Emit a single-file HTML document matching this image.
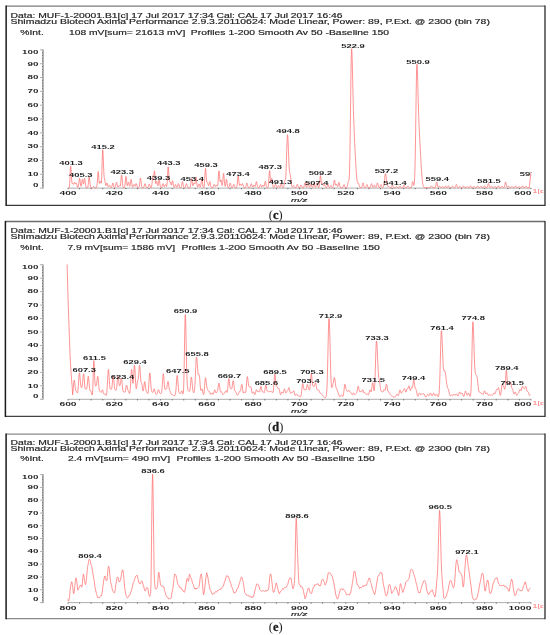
<!DOCTYPE html>
<html><head><meta charset="utf-8"><title>MALDI spectra</title>
<style>
html,body{margin:0;padding:0;background:#fff;}
svg{display:block;}
text{font-family:"Liberation Sans",Arial,sans-serif;}
</style></head>
<body>
<svg width="550" height="635" viewBox="0 0 550 635">
<clipPath id="c2"><rect x="0" y="0" width="543.3" height="635"/></clipPath>
<line x1="6.15" y1="6.2" x2="545.0" y2="6.2" stroke="#7a7a7a" stroke-width="1.3"/>
<line x1="6.15" y1="205.3" x2="545.0" y2="205.3" stroke="#3a3a3a" stroke-width="1.3"/>
<line x1="6.15" y1="5.6000000000000005" x2="6.15" y2="205.9" stroke="#1a1a1a" stroke-width="1.5"/>
<line x1="545.0" y1="5.6000000000000005" x2="545.0" y2="205.9" stroke="#2a2a2a" stroke-width="1.3"/>
<text transform="translate(10.60 17.70) scale(1 0.63)" font-size="10.3" text-anchor="start" fill="#1e1e1e" stroke="#1e1e1e" stroke-width="0.25" textLength="332.0" lengthAdjust="spacingAndGlyphs">Data: MUF-1-20001.B1[c] 17 Jul 2017 17:34 Cal: CAL 17 Jul 2017 16:46</text>
<text transform="translate(10.60 23.80) scale(1 0.63)" font-size="10.3" text-anchor="start" fill="#1e1e1e" stroke="#1e1e1e" stroke-width="0.25" textLength="479.3" lengthAdjust="spacingAndGlyphs">Shimadzu Biotech Axima Performance 2.9.3.20110624: Mode Linear, Power: 89, P.Ext. @ 2300 (bin 78)</text>
<text transform="translate(20.30 35.30) scale(1 0.63)" font-size="10.3" text-anchor="start" fill="#1e1e1e" stroke="#1e1e1e" stroke-width="0.25">%Int.</text>
<text transform="translate(69.00 35.30) scale(1 0.63)" font-size="10.3" text-anchor="start" fill="#1e1e1e" stroke="#1e1e1e" stroke-width="0.25">108 mV[sum= 21613 mV]</text>
<text transform="translate(190.80 35.30) scale(1 0.63)" font-size="10.3" text-anchor="start" fill="#1e1e1e" stroke="#1e1e1e" stroke-width="0.25" textLength="198.3" lengthAdjust="spacingAndGlyphs">Profiles 1-200 Smooth Av 50 -Baseline 150</text>
<line x1="43.0" y1="49.6" x2="43.0" y2="188.4" stroke="#8c8c8c" stroke-width="1.3"/>
<path d="M42.00 185.34H42.90 M42.00 182.57H42.90 M42.00 179.81H42.90 M42.00 177.04H42.90 M42.00 171.52H42.90 M42.00 168.75H42.90 M42.00 165.99H42.90 M42.00 163.22H42.90 M42.00 157.70H42.90 M42.00 154.93H42.90 M42.00 152.17H42.90 M42.00 149.40H42.90 M42.00 143.88H42.90 M42.00 141.11H42.90 M42.00 138.35H42.90 M42.00 135.58H42.90 M42.00 130.06H42.90 M42.00 127.29H42.90 M42.00 124.53H42.90 M42.00 121.76H42.90 M42.00 116.24H42.90 M42.00 113.47H42.90 M42.00 110.71H42.90 M42.00 107.94H42.90 M42.00 102.42H42.90 M42.00 99.65H42.90 M42.00 96.89H42.90 M42.00 94.12H42.90 M42.00 88.60H42.90 M42.00 85.83H42.90 M42.00 83.07H42.90 M42.00 80.30H42.90 M42.00 74.78H42.90 M42.00 72.01H42.90 M42.00 69.25H42.90 M42.00 66.48H42.90 M42.00 60.96H42.90 M42.00 58.19H42.90 M42.00 55.43H42.90 M42.00 52.66H42.90" stroke="#505050" stroke-width="0.8" fill="none"/>
<path d="M40.10 188.10H43.0 M40.10 174.28H43.0 M40.10 160.46H43.0 M40.10 146.64H43.0 M40.10 132.82H43.0 M40.10 119.00H43.0 M40.10 105.18H43.0 M40.10 91.36H43.0 M40.10 77.54H43.0 M40.10 63.72H43.0 M40.10 49.90H43.0" stroke="#999" stroke-width="0.8" fill="none"/>
<text transform="translate(38.40 186.75) scale(1 0.52)" font-size="9.8" text-anchor="end" fill="#1e1e1e" stroke="#1e1e1e" stroke-width="0" font-weight="bold">0</text>
<text transform="translate(38.40 176.13) scale(1 0.52)" font-size="9.8" text-anchor="end" fill="#1e1e1e" stroke="#1e1e1e" stroke-width="0" font-weight="bold">10</text>
<text transform="translate(38.40 162.31) scale(1 0.52)" font-size="9.8" text-anchor="end" fill="#1e1e1e" stroke="#1e1e1e" stroke-width="0" font-weight="bold">20</text>
<text transform="translate(38.40 148.49) scale(1 0.52)" font-size="9.8" text-anchor="end" fill="#1e1e1e" stroke="#1e1e1e" stroke-width="0" font-weight="bold">30</text>
<text transform="translate(38.40 134.67) scale(1 0.52)" font-size="9.8" text-anchor="end" fill="#1e1e1e" stroke="#1e1e1e" stroke-width="0" font-weight="bold">40</text>
<text transform="translate(38.40 120.85) scale(1 0.52)" font-size="9.8" text-anchor="end" fill="#1e1e1e" stroke="#1e1e1e" stroke-width="0" font-weight="bold">50</text>
<text transform="translate(38.40 107.03) scale(1 0.52)" font-size="9.8" text-anchor="end" fill="#1e1e1e" stroke="#1e1e1e" stroke-width="0" font-weight="bold">60</text>
<text transform="translate(38.40 93.21) scale(1 0.52)" font-size="9.8" text-anchor="end" fill="#1e1e1e" stroke="#1e1e1e" stroke-width="0" font-weight="bold">70</text>
<text transform="translate(38.40 79.39) scale(1 0.52)" font-size="9.8" text-anchor="end" fill="#1e1e1e" stroke="#1e1e1e" stroke-width="0" font-weight="bold">80</text>
<text transform="translate(38.40 65.57) scale(1 0.52)" font-size="9.8" text-anchor="end" fill="#1e1e1e" stroke="#1e1e1e" stroke-width="0" font-weight="bold">90</text>
<text transform="translate(38.40 54.25) scale(1 0.52)" font-size="9.8" text-anchor="end" fill="#1e1e1e" stroke="#1e1e1e" stroke-width="0" font-weight="bold">100</text>
<line x1="68.0" y1="188.1" x2="531.00" y2="188.1" stroke="#777" stroke-width="0.6"/>
<path d="M68.00 188.10v1.1 M79.58 188.10v1.1 M91.15 188.10v1.1 M102.72 188.10v1.1 M114.30 188.10v1.1 M125.88 188.10v1.1 M137.45 188.10v1.1 M149.02 188.10v1.1 M160.60 188.10v1.1 M172.18 188.10v1.1 M183.75 188.10v1.1 M195.32 188.10v1.1 M206.90 188.10v1.1 M218.47 188.10v1.1 M230.05 188.10v1.1 M241.62 188.10v1.1 M253.20 188.10v1.1 M264.77 188.10v1.1 M276.35 188.10v1.1 M287.92 188.10v1.1 M299.50 188.10v1.1 M311.07 188.10v1.1 M322.65 188.10v1.1 M334.22 188.10v1.1 M345.80 188.10v1.1 M357.38 188.10v1.1 M368.95 188.10v1.1 M380.52 188.10v1.1 M392.10 188.10v1.1 M403.68 188.10v1.1 M415.25 188.10v1.1 M426.82 188.10v1.1 M438.40 188.10v1.1 M449.97 188.10v1.1 M461.55 188.10v1.1 M473.12 188.10v1.1 M484.70 188.10v1.1 M496.27 188.10v1.1 M507.85 188.10v1.1 M519.42 188.10v1.1 M531.00 188.10v1.1" stroke="#444" stroke-width="0.8" fill="none"/>
<text transform="translate(68.00 195.10) scale(1 0.57)" font-size="10.3" text-anchor="middle" fill="#1e1e1e" stroke="#1e1e1e" stroke-width="0" font-weight="bold">400</text>
<text transform="translate(114.30 195.10) scale(1 0.57)" font-size="10.3" text-anchor="middle" fill="#1e1e1e" stroke="#1e1e1e" stroke-width="0" font-weight="bold">420</text>
<text transform="translate(160.60 195.10) scale(1 0.57)" font-size="10.3" text-anchor="middle" fill="#1e1e1e" stroke="#1e1e1e" stroke-width="0" font-weight="bold">440</text>
<text transform="translate(206.90 195.10) scale(1 0.57)" font-size="10.3" text-anchor="middle" fill="#1e1e1e" stroke="#1e1e1e" stroke-width="0" font-weight="bold">460</text>
<text transform="translate(253.20 195.10) scale(1 0.57)" font-size="10.3" text-anchor="middle" fill="#1e1e1e" stroke="#1e1e1e" stroke-width="0" font-weight="bold">480</text>
<text transform="translate(299.50 195.10) scale(1 0.57)" font-size="10.3" text-anchor="middle" fill="#1e1e1e" stroke="#1e1e1e" stroke-width="0" font-weight="bold">500</text>
<text transform="translate(345.80 195.10) scale(1 0.57)" font-size="10.3" text-anchor="middle" fill="#1e1e1e" stroke="#1e1e1e" stroke-width="0" font-weight="bold">520</text>
<text transform="translate(392.10 195.10) scale(1 0.57)" font-size="10.3" text-anchor="middle" fill="#1e1e1e" stroke="#1e1e1e" stroke-width="0" font-weight="bold">540</text>
<text transform="translate(438.40 195.10) scale(1 0.57)" font-size="10.3" text-anchor="middle" fill="#1e1e1e" stroke="#1e1e1e" stroke-width="0" font-weight="bold">560</text>
<text transform="translate(484.70 195.10) scale(1 0.57)" font-size="10.3" text-anchor="middle" fill="#1e1e1e" stroke="#1e1e1e" stroke-width="0" font-weight="bold">580</text>
<text transform="translate(531.50 195.10) scale(1 0.57)" font-size="10.3" text-anchor="end" fill="#1e1e1e" stroke="#1e1e1e" stroke-width="0" font-weight="bold">600</text>
<text transform="translate(299.20 201.70) scale(1 0.6)" font-size="10.2" text-anchor="middle" fill="#1e1e1e" stroke="#1e1e1e" stroke-width="0.25" font-style="italic">m/z</text>
<g clip-path="url(#c2)">
<text transform="translate(532.60 193.40) scale(1 0.6)" font-size="9.0" text-anchor="start" fill="#ff8080" stroke="#ff8080" stroke-width="0.1">1[c]</text>
</g>
<text x="275.7" y="218.6" style="font-family:'Liberation Serif',serif;font-size:12.4px" text-anchor="middle" fill="#1a1a1a">(<tspan font-weight="bold" stroke="#1a1a1a" stroke-width="0.3">c</tspan>)</text>
<line x1="5.4" y1="221.5" x2="545.0" y2="221.5" stroke="#6a6a6a" stroke-width="1.3"/>
<line x1="5.4" y1="416.4" x2="545.0" y2="416.4" stroke="#444" stroke-width="1.3"/>
<line x1="5.4" y1="220.9" x2="5.4" y2="417.0" stroke="#1a1a1a" stroke-width="1.5"/>
<line x1="545.0" y1="220.9" x2="545.0" y2="417.0" stroke="#2a2a2a" stroke-width="1.3"/>
<text transform="translate(10.60 233.30) scale(1 0.63)" font-size="10.3" text-anchor="start" fill="#1e1e1e" stroke="#1e1e1e" stroke-width="0.25" textLength="332.0" lengthAdjust="spacingAndGlyphs">Data: MUF-1-20001.B1[c] 17 Jul 2017 17:34 Cal: CAL 17 Jul 2017 16:46</text>
<text transform="translate(10.60 239.20) scale(1 0.63)" font-size="10.3" text-anchor="start" fill="#1e1e1e" stroke="#1e1e1e" stroke-width="0.25" textLength="479.3" lengthAdjust="spacingAndGlyphs">Shimadzu Biotech Axima Performance 2.9.3.20110624: Mode Linear, Power: 89, P.Ext. @ 2300 (bin 78)</text>
<text transform="translate(20.30 250.30) scale(1 0.63)" font-size="10.3" text-anchor="start" fill="#1e1e1e" stroke="#1e1e1e" stroke-width="0.25">%Int.</text>
<text transform="translate(67.40 250.30) scale(1 0.63)" font-size="10.3" text-anchor="start" fill="#1e1e1e" stroke="#1e1e1e" stroke-width="0.25">7.9 mV[sum= 1586 mV]</text>
<text transform="translate(181.50 250.30) scale(1 0.63)" font-size="10.3" text-anchor="start" fill="#1e1e1e" stroke="#1e1e1e" stroke-width="0.25" textLength="198.3" lengthAdjust="spacingAndGlyphs">Profiles 1-200 Smooth Av 50 -Baseline 150</text>
<line x1="43.0" y1="264.4" x2="43.0" y2="399.6" stroke="#8c8c8c" stroke-width="1.3"/>
<path d="M42.00 396.61H42.90 M42.00 393.92H42.90 M42.00 391.22H42.90 M42.00 388.53H42.90 M42.00 383.15H42.90 M42.00 380.46H42.90 M42.00 377.76H42.90 M42.00 375.07H42.90 M42.00 369.69H42.90 M42.00 367.00H42.90 M42.00 364.30H42.90 M42.00 361.61H42.90 M42.00 356.23H42.90 M42.00 353.54H42.90 M42.00 350.84H42.90 M42.00 348.15H42.90 M42.00 342.77H42.90 M42.00 340.08H42.90 M42.00 337.38H42.90 M42.00 334.69H42.90 M42.00 329.31H42.90 M42.00 326.62H42.90 M42.00 323.92H42.90 M42.00 321.23H42.90 M42.00 315.85H42.90 M42.00 313.16H42.90 M42.00 310.46H42.90 M42.00 307.77H42.90 M42.00 302.39H42.90 M42.00 299.70H42.90 M42.00 297.00H42.90 M42.00 294.31H42.90 M42.00 288.93H42.90 M42.00 286.24H42.90 M42.00 283.54H42.90 M42.00 280.85H42.90 M42.00 275.47H42.90 M42.00 272.78H42.90 M42.00 270.08H42.90 M42.00 267.39H42.90" stroke="#505050" stroke-width="0.8" fill="none"/>
<path d="M40.10 399.30H43.0 M40.10 385.84H43.0 M40.10 372.38H43.0 M40.10 358.92H43.0 M40.10 345.46H43.0 M40.10 332.00H43.0 M40.10 318.54H43.0 M40.10 305.08H43.0 M40.10 291.62H43.0 M40.10 278.16H43.0 M40.10 264.70H43.0" stroke="#999" stroke-width="0.8" fill="none"/>
<text transform="translate(38.40 397.95) scale(1 0.52)" font-size="9.8" text-anchor="end" fill="#1e1e1e" stroke="#1e1e1e" stroke-width="0" font-weight="bold">0</text>
<text transform="translate(38.40 387.69) scale(1 0.52)" font-size="9.8" text-anchor="end" fill="#1e1e1e" stroke="#1e1e1e" stroke-width="0" font-weight="bold">10</text>
<text transform="translate(38.40 374.23) scale(1 0.52)" font-size="9.8" text-anchor="end" fill="#1e1e1e" stroke="#1e1e1e" stroke-width="0" font-weight="bold">20</text>
<text transform="translate(38.40 360.77) scale(1 0.52)" font-size="9.8" text-anchor="end" fill="#1e1e1e" stroke="#1e1e1e" stroke-width="0" font-weight="bold">30</text>
<text transform="translate(38.40 347.31) scale(1 0.52)" font-size="9.8" text-anchor="end" fill="#1e1e1e" stroke="#1e1e1e" stroke-width="0" font-weight="bold">40</text>
<text transform="translate(38.40 333.85) scale(1 0.52)" font-size="9.8" text-anchor="end" fill="#1e1e1e" stroke="#1e1e1e" stroke-width="0" font-weight="bold">50</text>
<text transform="translate(38.40 320.39) scale(1 0.52)" font-size="9.8" text-anchor="end" fill="#1e1e1e" stroke="#1e1e1e" stroke-width="0" font-weight="bold">60</text>
<text transform="translate(38.40 306.93) scale(1 0.52)" font-size="9.8" text-anchor="end" fill="#1e1e1e" stroke="#1e1e1e" stroke-width="0" font-weight="bold">70</text>
<text transform="translate(38.40 293.47) scale(1 0.52)" font-size="9.8" text-anchor="end" fill="#1e1e1e" stroke="#1e1e1e" stroke-width="0" font-weight="bold">80</text>
<text transform="translate(38.40 280.01) scale(1 0.52)" font-size="9.8" text-anchor="end" fill="#1e1e1e" stroke="#1e1e1e" stroke-width="0" font-weight="bold">90</text>
<text transform="translate(38.40 269.05) scale(1 0.52)" font-size="9.8" text-anchor="end" fill="#1e1e1e" stroke="#1e1e1e" stroke-width="0" font-weight="bold">100</text>
<line x1="68.0" y1="399.3" x2="531.00" y2="399.3" stroke="#777" stroke-width="0.6"/>
<path d="M68.00 399.30v1.1 M79.58 399.30v1.1 M91.15 399.30v1.1 M102.72 399.30v1.1 M114.30 399.30v1.1 M125.88 399.30v1.1 M137.45 399.30v1.1 M149.02 399.30v1.1 M160.60 399.30v1.1 M172.18 399.30v1.1 M183.75 399.30v1.1 M195.32 399.30v1.1 M206.90 399.30v1.1 M218.47 399.30v1.1 M230.05 399.30v1.1 M241.62 399.30v1.1 M253.20 399.30v1.1 M264.77 399.30v1.1 M276.35 399.30v1.1 M287.92 399.30v1.1 M299.50 399.30v1.1 M311.07 399.30v1.1 M322.65 399.30v1.1 M334.22 399.30v1.1 M345.80 399.30v1.1 M357.38 399.30v1.1 M368.95 399.30v1.1 M380.52 399.30v1.1 M392.10 399.30v1.1 M403.68 399.30v1.1 M415.25 399.30v1.1 M426.82 399.30v1.1 M438.40 399.30v1.1 M449.97 399.30v1.1 M461.55 399.30v1.1 M473.12 399.30v1.1 M484.70 399.30v1.1 M496.27 399.30v1.1 M507.85 399.30v1.1 M519.42 399.30v1.1 M531.00 399.30v1.1" stroke="#444" stroke-width="0.8" fill="none"/>
<text transform="translate(68.00 406.30) scale(1 0.57)" font-size="10.3" text-anchor="middle" fill="#1e1e1e" stroke="#1e1e1e" stroke-width="0" font-weight="bold">600</text>
<text transform="translate(114.30 406.30) scale(1 0.57)" font-size="10.3" text-anchor="middle" fill="#1e1e1e" stroke="#1e1e1e" stroke-width="0" font-weight="bold">620</text>
<text transform="translate(160.60 406.30) scale(1 0.57)" font-size="10.3" text-anchor="middle" fill="#1e1e1e" stroke="#1e1e1e" stroke-width="0" font-weight="bold">640</text>
<text transform="translate(206.90 406.30) scale(1 0.57)" font-size="10.3" text-anchor="middle" fill="#1e1e1e" stroke="#1e1e1e" stroke-width="0" font-weight="bold">660</text>
<text transform="translate(253.20 406.30) scale(1 0.57)" font-size="10.3" text-anchor="middle" fill="#1e1e1e" stroke="#1e1e1e" stroke-width="0" font-weight="bold">680</text>
<text transform="translate(299.50 406.30) scale(1 0.57)" font-size="10.3" text-anchor="middle" fill="#1e1e1e" stroke="#1e1e1e" stroke-width="0" font-weight="bold">700</text>
<text transform="translate(345.80 406.30) scale(1 0.57)" font-size="10.3" text-anchor="middle" fill="#1e1e1e" stroke="#1e1e1e" stroke-width="0" font-weight="bold">720</text>
<text transform="translate(392.10 406.30) scale(1 0.57)" font-size="10.3" text-anchor="middle" fill="#1e1e1e" stroke="#1e1e1e" stroke-width="0" font-weight="bold">740</text>
<text transform="translate(438.40 406.30) scale(1 0.57)" font-size="10.3" text-anchor="middle" fill="#1e1e1e" stroke="#1e1e1e" stroke-width="0" font-weight="bold">760</text>
<text transform="translate(484.70 406.30) scale(1 0.57)" font-size="10.3" text-anchor="middle" fill="#1e1e1e" stroke="#1e1e1e" stroke-width="0" font-weight="bold">780</text>
<text transform="translate(531.50 406.30) scale(1 0.57)" font-size="10.3" text-anchor="end" fill="#1e1e1e" stroke="#1e1e1e" stroke-width="0" font-weight="bold">800</text>
<text transform="translate(299.20 412.90) scale(1 0.6)" font-size="10.2" text-anchor="middle" fill="#1e1e1e" stroke="#1e1e1e" stroke-width="0.25" font-style="italic">m/z</text>
<g clip-path="url(#c2)">
<text transform="translate(532.60 404.60) scale(1 0.6)" font-size="9.0" text-anchor="start" fill="#ff8080" stroke="#ff8080" stroke-width="0.1">1[c]</text>
</g>
<text x="275.7" y="430.5" style="font-family:'Liberation Serif',serif;font-size:12.4px" text-anchor="middle" fill="#1a1a1a">(<tspan font-weight="bold" stroke="#1a1a1a" stroke-width="0.3">d</tspan>)</text>
<line x1="6.1" y1="434.1" x2="545.0" y2="434.1" stroke="#8a8a8a" stroke-width="1.3"/>
<line x1="6.1" y1="618.6" x2="545.0" y2="618.6" stroke="#8a8a8a" stroke-width="1.3"/>
<line x1="6.1" y1="433.5" x2="6.1" y2="619.2" stroke="#1a1a1a" stroke-width="1.5"/>
<line x1="545.0" y1="433.5" x2="545.0" y2="619.2" stroke="#2a2a2a" stroke-width="1.3"/>
<text transform="translate(10.60 445.20) scale(1 0.63)" font-size="10.3" text-anchor="start" fill="#1e1e1e" stroke="#1e1e1e" stroke-width="0.25" textLength="332.0" lengthAdjust="spacingAndGlyphs">Data: MUF-1-20001.B1[c] 17 Jul 2017 17:34 Cal: CAL 17 Jul 2017 16:46</text>
<text transform="translate(10.60 450.70) scale(1 0.63)" font-size="10.3" text-anchor="start" fill="#1e1e1e" stroke="#1e1e1e" stroke-width="0.25" textLength="479.3" lengthAdjust="spacingAndGlyphs">Shimadzu Biotech Axima Performance 2.9.3.20110624: Mode Linear, Power: 89, P.Ext. @ 2300 (bin 78)</text>
<text transform="translate(20.30 461.30) scale(1 0.63)" font-size="10.3" text-anchor="start" fill="#1e1e1e" stroke="#1e1e1e" stroke-width="0.25">%Int.</text>
<text transform="translate(68.00 461.30) scale(1 0.63)" font-size="10.3" text-anchor="start" fill="#1e1e1e" stroke="#1e1e1e" stroke-width="0.25">2.4 mV[sum= 490 mV]</text>
<text transform="translate(176.60 461.30) scale(1 0.63)" font-size="10.3" text-anchor="start" fill="#1e1e1e" stroke="#1e1e1e" stroke-width="0.25" textLength="198.3" lengthAdjust="spacingAndGlyphs">Profiles 1-200 Smooth Av 50 -Baseline 150</text>
<line x1="43.0" y1="474.3" x2="43.0" y2="602.9" stroke="#8c8c8c" stroke-width="1.3"/>
<path d="M42.00 600.04H42.90 M42.00 597.48H42.90 M42.00 594.92H42.90 M42.00 592.36H42.90 M42.00 587.24H42.90 M42.00 584.68H42.90 M42.00 582.12H42.90 M42.00 579.56H42.90 M42.00 574.44H42.90 M42.00 571.88H42.90 M42.00 569.32H42.90 M42.00 566.76H42.90 M42.00 561.64H42.90 M42.00 559.08H42.90 M42.00 556.52H42.90 M42.00 553.96H42.90 M42.00 548.84H42.90 M42.00 546.28H42.90 M42.00 543.72H42.90 M42.00 541.16H42.90 M42.00 536.04H42.90 M42.00 533.48H42.90 M42.00 530.92H42.90 M42.00 528.36H42.90 M42.00 523.24H42.90 M42.00 520.68H42.90 M42.00 518.12H42.90 M42.00 515.56H42.90 M42.00 510.44H42.90 M42.00 507.88H42.90 M42.00 505.32H42.90 M42.00 502.76H42.90 M42.00 497.64H42.90 M42.00 495.08H42.90 M42.00 492.52H42.90 M42.00 489.96H42.90 M42.00 484.84H42.90 M42.00 482.28H42.90 M42.00 479.72H42.90 M42.00 477.16H42.90" stroke="#505050" stroke-width="0.8" fill="none"/>
<path d="M40.10 602.60H43.0 M40.10 589.80H43.0 M40.10 577.00H43.0 M40.10 564.20H43.0 M40.10 551.40H43.0 M40.10 538.60H43.0 M40.10 525.80H43.0 M40.10 513.00H43.0 M40.10 500.20H43.0 M40.10 487.40H43.0 M40.10 474.60H43.0" stroke="#999" stroke-width="0.8" fill="none"/>
<text transform="translate(38.40 601.25) scale(1 0.52)" font-size="9.8" text-anchor="end" fill="#1e1e1e" stroke="#1e1e1e" stroke-width="0" font-weight="bold">0</text>
<text transform="translate(38.40 591.65) scale(1 0.52)" font-size="9.8" text-anchor="end" fill="#1e1e1e" stroke="#1e1e1e" stroke-width="0" font-weight="bold">10</text>
<text transform="translate(38.40 578.85) scale(1 0.52)" font-size="9.8" text-anchor="end" fill="#1e1e1e" stroke="#1e1e1e" stroke-width="0" font-weight="bold">20</text>
<text transform="translate(38.40 566.05) scale(1 0.52)" font-size="9.8" text-anchor="end" fill="#1e1e1e" stroke="#1e1e1e" stroke-width="0" font-weight="bold">30</text>
<text transform="translate(38.40 553.25) scale(1 0.52)" font-size="9.8" text-anchor="end" fill="#1e1e1e" stroke="#1e1e1e" stroke-width="0" font-weight="bold">40</text>
<text transform="translate(38.40 540.45) scale(1 0.52)" font-size="9.8" text-anchor="end" fill="#1e1e1e" stroke="#1e1e1e" stroke-width="0" font-weight="bold">50</text>
<text transform="translate(38.40 527.65) scale(1 0.52)" font-size="9.8" text-anchor="end" fill="#1e1e1e" stroke="#1e1e1e" stroke-width="0" font-weight="bold">60</text>
<text transform="translate(38.40 514.85) scale(1 0.52)" font-size="9.8" text-anchor="end" fill="#1e1e1e" stroke="#1e1e1e" stroke-width="0" font-weight="bold">70</text>
<text transform="translate(38.40 502.05) scale(1 0.52)" font-size="9.8" text-anchor="end" fill="#1e1e1e" stroke="#1e1e1e" stroke-width="0" font-weight="bold">80</text>
<text transform="translate(38.40 489.25) scale(1 0.52)" font-size="9.8" text-anchor="end" fill="#1e1e1e" stroke="#1e1e1e" stroke-width="0" font-weight="bold">90</text>
<text transform="translate(38.40 478.95) scale(1 0.52)" font-size="9.8" text-anchor="end" fill="#1e1e1e" stroke="#1e1e1e" stroke-width="0" font-weight="bold">100</text>
<line x1="68.0" y1="602.6" x2="531.00" y2="602.6" stroke="#777" stroke-width="0.6"/>
<path d="M68.00 602.60v1.1 M79.58 602.60v1.1 M91.15 602.60v1.1 M102.72 602.60v1.1 M114.30 602.60v1.1 M125.88 602.60v1.1 M137.45 602.60v1.1 M149.02 602.60v1.1 M160.60 602.60v1.1 M172.18 602.60v1.1 M183.75 602.60v1.1 M195.32 602.60v1.1 M206.90 602.60v1.1 M218.47 602.60v1.1 M230.05 602.60v1.1 M241.62 602.60v1.1 M253.20 602.60v1.1 M264.77 602.60v1.1 M276.35 602.60v1.1 M287.92 602.60v1.1 M299.50 602.60v1.1 M311.07 602.60v1.1 M322.65 602.60v1.1 M334.22 602.60v1.1 M345.80 602.60v1.1 M357.38 602.60v1.1 M368.95 602.60v1.1 M380.52 602.60v1.1 M392.10 602.60v1.1 M403.68 602.60v1.1 M415.25 602.60v1.1 M426.82 602.60v1.1 M438.40 602.60v1.1 M449.97 602.60v1.1 M461.55 602.60v1.1 M473.12 602.60v1.1 M484.70 602.60v1.1 M496.27 602.60v1.1 M507.85 602.60v1.1 M519.42 602.60v1.1 M531.00 602.60v1.1" stroke="#444" stroke-width="0.8" fill="none"/>
<text transform="translate(68.00 609.60) scale(1 0.57)" font-size="10.3" text-anchor="middle" fill="#1e1e1e" stroke="#1e1e1e" stroke-width="0" font-weight="bold">800</text>
<text transform="translate(114.30 609.60) scale(1 0.57)" font-size="10.3" text-anchor="middle" fill="#1e1e1e" stroke="#1e1e1e" stroke-width="0" font-weight="bold">820</text>
<text transform="translate(160.60 609.60) scale(1 0.57)" font-size="10.3" text-anchor="middle" fill="#1e1e1e" stroke="#1e1e1e" stroke-width="0" font-weight="bold">840</text>
<text transform="translate(206.90 609.60) scale(1 0.57)" font-size="10.3" text-anchor="middle" fill="#1e1e1e" stroke="#1e1e1e" stroke-width="0" font-weight="bold">860</text>
<text transform="translate(253.20 609.60) scale(1 0.57)" font-size="10.3" text-anchor="middle" fill="#1e1e1e" stroke="#1e1e1e" stroke-width="0" font-weight="bold">880</text>
<text transform="translate(299.50 609.60) scale(1 0.57)" font-size="10.3" text-anchor="middle" fill="#1e1e1e" stroke="#1e1e1e" stroke-width="0" font-weight="bold">900</text>
<text transform="translate(345.80 609.60) scale(1 0.57)" font-size="10.3" text-anchor="middle" fill="#1e1e1e" stroke="#1e1e1e" stroke-width="0" font-weight="bold">920</text>
<text transform="translate(392.10 609.60) scale(1 0.57)" font-size="10.3" text-anchor="middle" fill="#1e1e1e" stroke="#1e1e1e" stroke-width="0" font-weight="bold">940</text>
<text transform="translate(438.40 609.60) scale(1 0.57)" font-size="10.3" text-anchor="middle" fill="#1e1e1e" stroke="#1e1e1e" stroke-width="0" font-weight="bold">960</text>
<text transform="translate(484.70 609.60) scale(1 0.57)" font-size="10.3" text-anchor="middle" fill="#1e1e1e" stroke="#1e1e1e" stroke-width="0" font-weight="bold">980</text>
<text transform="translate(531.50 609.60) scale(1 0.57)" font-size="10.3" text-anchor="end" fill="#1e1e1e" stroke="#1e1e1e" stroke-width="0" font-weight="bold">1000</text>
<text transform="translate(299.20 616.20) scale(1 0.6)" font-size="10.2" text-anchor="middle" fill="#1e1e1e" stroke="#1e1e1e" stroke-width="0.25" font-style="italic">m/z</text>
<g clip-path="url(#c2)">
<text transform="translate(532.60 607.90) scale(1 0.6)" font-size="9.0" text-anchor="start" fill="#ff8080" stroke="#ff8080" stroke-width="0.1">1[c]</text>
</g>
<text x="275.7" y="631.4" style="font-family:'Liberation Serif',serif;font-size:12.4px" text-anchor="middle" fill="#1a1a1a">(<tspan font-weight="bold" stroke="#1a1a1a" stroke-width="0.3">e</tspan>)</text>
<path d="M68.20 187.80L68.45 187.80 68.70 187.78 68.95 187.71 69.20 187.37 69.45 186.25 69.70 183.49 69.95 178.44 70.20 171.97 70.45 166.96 70.70 166.21 70.95 168.51 71.20 172.55 71.45 176.97 71.70 180.57 71.95 182.72 72.20 183.51 72.45 183.46 72.70 183.26 72.95 183.39 73.20 183.87 73.45 184.36 73.70 184.45 73.95 183.97 74.20 183.14 74.45 182.47 74.70 182.36 74.95 182.84 75.20 183.53 75.45 183.93 75.70 183.82 75.95 183.38 76.20 183.07 76.45 183.27 76.70 184.05 76.95 185.14 77.20 186.19 77.45 186.95 77.70 187.35 77.95 187.39 78.20 187.01 78.45 186.07 78.70 184.45 78.95 182.26 79.20 180.00 79.45 178.48 79.70 178.32 79.95 179.61 80.20 181.77 80.45 183.99 80.70 185.61 80.95 186.35 81.20 186.15 81.45 185.06 81.70 183.28 81.95 181.26 82.20 179.72 82.45 179.30 82.70 180.15 82.95 181.79 83.20 183.35 83.45 184.06 83.70 183.51 83.95 181.89 84.20 179.88 84.45 178.44 84.70 178.32 84.95 179.61 85.20 181.79 85.45 184.05 85.70 185.81 85.95 186.90 86.20 187.46 86.45 187.69 86.70 187.77 86.95 187.78 87.20 187.74 87.45 187.60 87.70 187.23 87.95 186.40 88.20 184.89 88.45 182.65 88.70 180.07 88.95 177.94 89.20 177.10 89.45 177.94 89.70 180.07 89.95 182.65 90.20 184.89 90.45 186.40 90.70 187.23 90.95 187.60 91.20 187.74 91.45 187.78 91.70 187.78 91.95 187.74 92.20 187.66 92.45 187.49 92.70 187.23 92.95 186.92 93.20 186.64 93.45 186.50 93.70 186.57 93.95 186.80 94.20 187.11 94.45 187.40 94.70 187.60 94.95 187.72 95.20 187.77 95.45 187.79 95.70 187.79 95.95 187.78 96.20 187.71 96.45 187.50 96.70 186.93 96.95 185.68 97.20 183.39 97.45 180.01 97.70 176.10 97.95 172.86 98.20 171.59 98.45 172.82 98.70 175.94 98.95 179.56 99.20 182.34 99.45 183.58 99.70 183.34 99.95 182.27 100.20 181.25 100.45 180.97 100.70 181.60 100.95 182.67 101.20 183.17 101.45 181.84 101.70 177.57 101.95 170.10 102.20 160.85 102.45 152.93 102.70 149.77 102.95 151.54 103.20 156.32 103.45 162.72 103.70 169.10 103.95 174.13 104.20 177.30 104.45 178.95 104.70 179.91 104.95 180.93 105.20 182.32 105.45 183.85 105.70 185.04 105.95 185.52 106.20 185.22 106.45 184.38 106.70 183.47 106.95 183.00 107.20 183.24 107.45 184.10 107.70 185.22 107.95 186.19 108.20 186.75 108.45 186.82 108.70 186.47 108.95 185.88 109.20 185.30 109.45 185.01 109.70 185.14 109.95 185.65 110.20 186.32 110.45 186.93 110.70 187.36 110.95 187.58 111.20 187.62 111.45 187.47 111.70 187.06 111.95 186.31 112.20 185.26 112.45 184.11 112.70 183.24 112.95 183.02 113.20 183.53 113.45 184.56 113.70 185.71 113.95 186.65 114.20 187.26 114.45 187.57 114.70 187.65 114.95 187.53 115.20 187.17 115.45 186.46 115.70 185.36 115.95 184.02 116.20 182.82 116.45 182.22 116.70 182.48 116.95 183.49 117.20 184.83 117.45 186.03 117.70 186.82 117.95 187.14 118.20 187.04 118.45 186.65 118.70 186.13 118.95 185.68 119.20 185.49 119.45 185.65 119.70 186.02 119.95 186.32 120.20 186.17 120.45 185.19 120.70 183.18 120.95 180.31 121.20 177.31 121.45 175.27 121.70 175.07 121.95 176.80 122.20 179.72 122.45 182.76 122.70 185.13 122.95 186.59 123.20 187.34 123.45 187.65 123.70 187.75 123.95 187.74 124.20 187.63 124.45 187.30 124.70 186.53 124.95 185.08 125.20 182.84 125.45 180.11 125.70 177.66 125.95 176.44 126.20 176.97 126.45 179.02 126.70 181.69 126.95 184.02 127.20 185.40 127.45 185.68 127.70 185.01 127.95 183.81 128.20 182.62 128.45 182.01 128.70 182.29 128.95 183.32 129.20 184.66 129.45 185.76 129.70 186.24 129.95 185.90 130.20 184.70 130.45 182.85 130.70 180.89 130.95 179.54 131.20 179.41 131.45 180.55 131.70 182.47 131.95 184.46 132.20 185.99 132.45 186.86 132.70 187.13 132.95 186.91 133.20 186.34 133.45 185.57 133.70 184.86 133.95 184.50 134.20 184.64 134.45 185.19 134.70 185.83 134.95 186.23 135.20 186.15 135.45 185.57 135.70 184.69 135.95 183.90 136.20 183.59 136.45 183.93 136.70 184.77 136.95 185.78 137.20 186.66 137.45 187.25 137.70 187.57 137.95 187.72 138.20 187.77 138.45 187.75 138.70 187.65 138.95 187.37 139.20 186.71 139.45 185.46 139.70 183.54 139.95 181.19 140.20 179.08 140.45 178.03 140.70 178.50 140.95 180.27 141.20 182.62 141.45 184.77 141.70 186.29 141.95 187.16 142.20 187.57 142.45 187.73 142.70 187.78 142.95 187.78 143.20 187.74 143.45 187.62 143.70 187.33 143.95 186.80 144.20 185.97 144.45 184.97 144.70 184.06 144.95 183.61 145.20 183.81 145.45 184.57 145.70 185.58 145.95 186.50 146.20 187.15 146.45 187.53 146.70 187.70 146.95 187.77 147.20 187.78 147.45 187.75 147.70 187.66 147.95 187.44 148.20 187.01 148.45 186.32 148.70 185.42 148.95 184.56 149.20 184.05 149.45 184.11 149.70 184.71 149.95 185.61 150.20 186.47 150.45 187.12 150.70 187.48 150.95 187.61 151.20 187.50 151.45 187.05 151.70 186.05 151.95 184.27 152.20 181.76 152.45 178.97 152.70 176.73 152.95 175.71 153.20 175.83 153.45 176.18 153.70 175.66 153.95 173.95 154.20 171.86 154.45 170.84 154.70 171.93 154.95 174.95 155.20 178.70 155.45 181.81 155.70 183.41 155.95 183.46 156.20 182.50 156.45 181.41 156.70 180.97 156.95 181.51 157.20 182.84 157.45 184.38 157.70 185.53 157.95 185.89 158.20 185.31 158.45 183.92 158.70 182.13 158.95 180.60 159.20 180.00 159.45 180.61 159.70 182.17 159.95 184.05 160.20 185.68 160.45 186.78 160.70 187.38 160.95 187.64 161.20 187.69 161.45 187.60 161.70 187.32 161.95 186.77 162.20 185.93 162.45 184.90 162.70 183.97 162.95 183.51 163.20 183.71 163.45 184.48 163.70 185.48 163.95 186.33 164.20 186.77 164.45 186.73 164.70 186.26 164.95 185.54 165.20 184.86 165.45 184.51 165.70 184.66 165.95 185.25 166.20 185.97 166.45 186.48 166.70 186.37 166.95 185.20 167.20 182.51 167.45 178.21 167.70 173.02 167.95 168.63 168.20 166.88 168.45 168.12 168.70 171.40 168.95 175.49 169.20 179.06 169.45 181.29 169.70 182.06 169.95 181.93 170.20 181.71 170.45 182.02 170.70 182.95 170.95 184.13 171.20 184.99 171.45 185.07 171.70 184.26 171.95 182.84 172.20 181.43 172.45 180.71 172.70 181.06 172.95 182.34 173.20 184.04 173.45 185.59 173.70 186.66 173.95 187.19 174.20 187.27 174.45 186.96 174.70 186.35 174.95 185.57 175.20 184.86 175.45 184.51 175.70 184.67 175.95 185.26 176.20 186.05 176.45 186.75 176.70 187.20 176.95 187.31 177.20 187.08 177.45 186.48 177.70 185.57 177.95 184.57 178.20 183.81 178.45 183.61 178.70 184.06 178.95 184.97 179.20 185.97 179.45 186.80 179.70 187.33 179.95 187.61 180.20 187.73 180.45 187.76 180.70 187.70 180.95 187.52 181.20 187.10 181.45 186.30 181.70 185.06 181.95 183.55 182.20 182.20 182.45 181.52 182.70 181.82 182.95 182.96 183.20 184.47 183.45 185.85 183.70 186.83 183.95 187.39 184.20 187.65 184.45 187.74 184.70 187.73 184.95 187.61 185.20 187.33 185.45 186.80 185.70 185.97 185.95 184.97 186.20 184.06 186.45 183.61 186.70 183.81 186.95 184.57 187.20 185.58 187.45 186.50 187.70 187.15 187.95 187.53 188.20 187.70 188.45 187.77 188.70 187.79 188.95 187.80 189.20 187.79 189.45 187.78 189.70 187.72 189.95 187.53 190.20 187.07 190.45 186.14 190.70 184.56 190.95 182.43 191.20 180.25 191.45 178.77 191.70 178.62 191.95 179.85 192.20 181.91 192.45 183.96 192.70 185.34 192.95 185.79 193.20 185.38 193.45 184.45 193.70 183.49 193.95 182.96 194.20 183.08 194.45 183.64 194.70 184.06 194.95 183.74 195.20 182.36 195.45 180.20 195.70 178.08 195.95 177.00 196.20 177.54 196.45 179.50 196.70 182.09 196.95 184.44 197.20 186.08 197.45 186.93 197.70 187.13 197.95 186.82 198.20 186.13 198.45 185.23 198.70 184.42 198.95 184.01 199.20 184.19 199.45 184.87 199.70 185.76 199.95 186.53 200.20 186.91 200.45 186.76 200.70 185.95 200.95 184.45 201.20 182.47 201.45 180.55 201.70 179.41 201.95 179.55 202.20 180.90 202.45 182.89 202.70 184.84 202.95 186.28 203.20 187.12 203.45 187.50 203.70 187.51 203.95 187.09 204.20 185.94 204.45 183.60 204.70 179.82 204.95 175.05 205.20 170.67 205.45 168.45 205.70 169.10 205.95 171.81 206.20 175.50 206.45 178.93 206.70 181.25 206.95 182.29 207.20 182.51 207.45 182.61 207.70 183.08 207.95 184.00 208.20 185.03 208.45 185.72 208.70 185.76 208.95 185.03 209.20 183.74 209.45 182.39 209.70 181.57 209.95 181.68 210.20 182.68 210.45 184.16 210.70 185.60 210.95 186.67 211.20 187.31 211.45 187.62 211.70 187.74 211.95 187.78 212.20 187.78 212.45 187.73 212.70 187.61 212.95 187.34 213.20 186.85 213.45 186.12 213.70 185.27 213.95 184.57 214.20 184.30 214.45 184.56 214.70 185.23 214.95 185.99 215.20 186.54 215.45 186.67 215.70 186.39 215.95 185.85 216.20 185.29 216.45 185.00 216.70 185.12 216.95 185.58 217.20 186.07 217.45 186.19 217.70 185.48 217.95 183.57 218.20 180.34 218.45 176.31 218.70 172.66 218.95 170.82 219.20 171.55 219.45 174.39 219.70 177.95 219.95 180.69 220.20 181.80 220.45 181.43 220.70 180.47 220.95 179.90 221.20 180.36 221.45 181.76 221.70 183.54 221.95 184.97 222.20 185.46 222.45 184.68 222.70 182.53 222.95 179.32 223.20 175.93 223.45 173.62 223.70 173.39 223.95 175.35 224.20 178.65 224.45 182.06 224.70 184.65 224.95 186.06 225.20 186.33 225.45 185.60 225.70 184.06 225.95 182.05 226.20 180.24 226.45 179.33 226.70 179.73 226.95 181.27 227.20 183.31 227.45 185.17 227.70 186.49 227.95 187.24 228.20 187.58 228.45 187.65 228.70 187.53 228.95 187.17 229.20 186.49 229.45 185.49 229.70 184.33 229.95 183.37 230.20 183.00 230.45 183.37 230.70 184.33 230.95 185.49 231.20 186.49 231.45 187.17 231.70 187.53 231.95 187.67 232.20 187.65 232.45 187.47 232.70 187.07 232.95 186.43 233.20 185.61 233.45 184.82 233.70 184.35 233.95 184.40 234.20 184.96 234.45 185.78 234.70 186.58 234.95 187.17 235.20 187.53 235.45 187.70 235.70 187.76 235.95 187.77 236.20 187.73 236.45 187.57 236.70 187.15 236.95 186.20 237.20 184.48 237.45 181.93 237.70 178.99 237.95 176.55 238.20 175.60 238.45 176.54 238.70 178.93 238.95 181.76 239.20 184.06 239.45 185.30 239.70 185.49 239.95 185.01 240.20 184.35 240.45 183.98 240.70 184.13 240.95 184.69 241.20 185.32 241.45 185.62 241.70 185.39 241.95 184.72 242.20 183.98 242.45 183.59 242.70 183.81 242.95 184.57 243.20 185.58 243.45 186.50 243.70 187.15 243.95 187.53 244.20 187.70 244.45 187.77 244.70 187.78 244.95 187.76 245.20 187.69 245.45 187.49 245.70 187.06 245.95 186.32 246.20 185.26 246.45 184.11 246.70 183.24 246.95 183.02 247.20 183.53 247.45 184.56 247.70 185.71 247.95 186.66 248.20 187.27 248.45 187.59 248.70 187.73 248.95 187.78 249.20 187.78 249.45 187.75 249.70 187.65 249.95 187.41 250.20 186.93 250.45 186.16 250.70 185.17 250.95 184.22 251.20 183.65 251.45 183.72 251.70 184.39 251.95 185.36 252.20 186.29 252.45 186.93 252.70 187.16 252.95 187.01 253.20 186.54 253.45 185.90 253.70 185.31 253.95 185.01 254.20 185.13 254.45 185.60 254.70 186.17 254.95 186.53 255.20 186.40 255.45 185.67 255.70 184.40 255.95 182.94 256.20 181.81 256.45 181.52 256.70 182.20 256.95 183.55 257.20 185.06 257.45 186.30 257.70 187.10 257.95 187.52 258.20 187.70 258.45 187.76 258.70 187.74 258.95 187.65 259.20 187.43 259.45 187.01 259.70 186.36 259.95 185.57 260.20 184.86 260.45 184.51 260.70 184.66 260.95 185.25 261.20 186.01 261.45 186.66 261.70 186.98 261.95 186.92 262.20 186.51 262.45 185.89 262.70 185.30 262.95 185.00 263.20 185.12 263.45 185.57 263.70 186.09 263.95 186.33 264.20 186.02 264.45 185.08 264.70 183.67 264.95 182.24 265.20 181.38 265.45 181.49 265.70 182.52 265.95 184.05 266.20 185.53 266.45 186.64 266.70 187.29 266.95 187.61 267.20 187.73 267.45 187.76 267.70 187.68 267.95 187.40 268.20 186.66 268.45 185.03 268.70 182.15 268.95 178.12 269.20 173.87 269.45 170.93 269.70 170.61 269.95 173.01 270.20 176.91 270.45 180.53 270.70 182.59 270.95 182.70 271.20 181.36 271.45 179.55 271.70 178.38 271.95 178.57 272.20 180.08 272.45 182.32 272.70 184.49 272.95 186.10 273.20 187.05 273.45 187.51 273.70 187.66 273.95 187.62 274.20 187.40 274.45 186.94 274.70 186.23 274.95 185.37 275.20 184.60 275.45 184.21 275.70 184.38 275.95 185.03 276.20 185.89 276.45 186.68 276.70 187.21 276.95 187.47 277.20 187.46 277.45 187.23 277.70 186.79 277.95 186.25 278.20 185.75 278.45 185.51 278.70 185.62 278.95 186.03 279.20 186.57 279.45 187.04 279.70 187.29 279.95 187.25 280.20 186.86 280.45 186.10 280.70 185.10 280.95 184.13 281.20 183.56 281.45 183.62 281.70 184.31 281.95 185.32 282.20 186.30 282.45 187.03 282.70 187.45 282.95 187.63 283.20 187.61 283.45 187.37 283.70 186.79 283.95 185.77 284.20 184.30 284.45 182.63 284.70 181.21 284.95 180.36 285.20 179.99 285.45 179.45 285.70 177.79 285.95 174.20 286.20 168.37 286.45 160.63 286.70 151.93 286.95 143.72 287.20 137.56 287.45 134.76 287.70 135.52 287.95 138.82 288.20 144.09 288.45 150.48 288.70 157.05 288.95 162.93 289.20 167.52 289.45 170.63 289.70 172.46 289.95 173.54 290.20 174.47 290.45 175.73 290.70 177.50 290.95 179.65 291.20 181.88 291.45 183.87 291.70 185.41 291.95 186.43 292.20 186.98 292.45 187.11 292.70 186.91 292.95 186.49 293.20 186.00 293.45 185.66 293.70 185.63 293.95 185.92 294.20 186.42 294.45 186.94 294.70 187.34 294.95 187.59 295.20 187.71 295.45 187.73 295.70 187.66 295.95 187.46 296.20 187.05 296.45 186.39 296.70 185.55 296.95 184.73 297.20 184.25 297.45 184.30 297.70 184.88 297.95 185.72 298.20 186.54 298.45 187.15 298.70 187.52 298.95 187.68 299.20 187.73 299.45 187.67 299.70 187.49 299.95 187.13 300.20 186.58 300.45 185.91 300.70 185.31 300.95 185.01 301.20 185.14 301.45 185.65 301.70 186.32 301.95 186.93 302.20 187.37 302.45 187.62 302.70 187.73 302.95 187.76 303.20 187.72 303.45 187.57 303.70 187.23 303.95 186.58 304.20 185.58 304.45 184.36 304.70 183.26 304.95 182.72 305.20 182.96 305.45 183.88 305.70 185.10 305.95 186.20 306.20 186.94 306.45 187.24 306.70 187.12 306.95 186.55 307.20 185.57 307.45 184.36 307.70 183.26 307.95 182.72 308.20 182.96 308.45 183.88 308.70 185.10 308.95 186.21 309.20 186.96 309.45 187.31 309.70 187.28 309.95 186.91 310.20 186.22 310.45 185.37 310.70 184.60 310.95 184.21 311.20 184.38 311.45 185.03 311.70 185.89 311.95 186.67 312.20 187.18 312.45 187.38 312.70 187.24 312.95 186.75 313.20 185.92 313.45 184.90 313.70 183.97 313.95 183.51 314.20 183.72 314.45 184.49 314.70 185.52 314.95 186.45 315.20 187.06 315.45 187.30 315.70 187.13 315.95 186.55 316.20 185.57 316.45 184.36 316.70 183.26 316.95 182.72 317.20 182.96 317.45 183.88 317.70 185.10 317.95 186.22 318.20 187.00 318.45 187.42 318.70 187.50 318.95 187.22 319.20 186.43 319.45 184.87 319.70 182.45 319.95 179.50 320.20 176.85 320.45 175.52 320.70 176.05 320.95 178.14 321.20 180.76 321.45 182.85 321.70 183.82 321.95 183.76 322.20 183.24 322.45 182.91 322.70 183.17 322.95 183.95 323.20 184.86 323.45 185.46 323.70 185.50 323.95 185.06 324.20 184.49 324.45 184.18 324.70 184.37 324.95 185.03 325.20 185.90 325.45 186.69 325.70 187.24 325.95 187.55 326.20 187.67 326.45 187.63 326.70 187.43 326.95 187.01 327.20 186.36 327.45 185.57 327.70 184.86 327.95 184.51 328.20 184.67 328.45 185.26 328.70 186.05 328.95 186.77 329.20 187.26 329.45 187.48 329.70 187.47 329.95 187.23 330.20 186.79 330.45 186.25 330.70 185.75 330.95 185.51 331.20 185.62 331.45 186.03 331.70 186.58 331.95 187.09 332.20 187.43 332.45 187.60 332.70 187.56 332.95 187.28 333.20 186.60 333.45 185.39 333.70 183.68 333.95 181.81 334.20 180.39 334.45 180.01 334.70 180.81 334.95 182.37 335.20 183.99 335.45 185.04 335.70 185.28 335.95 184.89 336.20 184.30 336.45 183.98 336.70 184.18 336.95 184.86 337.20 185.71 337.45 186.39 337.70 186.62 337.95 186.27 338.20 185.36 338.45 184.13 338.70 182.99 338.95 182.42 339.20 182.67 339.45 183.65 339.70 184.95 339.95 186.13 340.20 186.97 340.45 187.45 340.70 187.67 340.95 187.76 341.20 187.79 341.45 187.80 341.70 187.80 341.95 187.79 342.20 187.75 342.45 187.66 342.70 187.43 342.95 187.01 343.20 186.36 343.45 185.57 343.70 184.86 343.95 184.51 344.20 184.67 344.45 185.26 344.70 186.06 344.95 186.78 345.20 187.29 345.45 187.59 345.70 187.72 345.95 187.77 346.20 187.78 346.45 187.73 346.70 187.59 346.95 187.26 347.20 186.59 347.45 185.51 347.70 184.10 347.95 182.68 348.20 181.65 348.45 181.20 348.70 181.03 348.95 180.33 349.20 178.02 349.45 173.06 349.70 164.62 349.95 152.20 350.20 135.87 350.45 116.42 350.70 95.56 350.95 75.78 351.20 59.92 351.45 50.49 351.70 48.72 351.95 52.13 352.20 59.40 352.45 69.37 352.70 80.68 352.95 92.00 353.20 102.36 353.45 111.26 353.70 118.74 353.95 125.27 354.20 131.49 354.45 137.69 354.70 143.27 354.95 148.39 355.20 153.24 355.45 157.90 355.70 162.39 355.95 166.65 356.20 170.59 356.45 174.12 356.70 177.17 356.95 179.67 357.20 181.53 357.45 182.72 357.70 183.25 357.95 183.28 358.20 183.13 358.45 183.19 358.70 183.68 358.95 184.57 359.20 185.61 359.45 186.52 359.70 187.16 359.95 187.52 360.20 187.69 360.45 187.76 360.70 187.78 360.95 187.78 361.20 187.73 361.45 187.58 361.70 187.26 361.95 186.63 362.20 185.67 362.45 184.49 362.70 183.44 362.95 182.92 363.20 183.15 363.45 184.03 363.70 185.21 363.95 186.29 364.20 187.05 364.45 187.48 364.70 187.68 364.95 187.75 365.20 187.74 365.45 187.65 365.70 187.43 365.95 187.01 366.20 186.36 366.45 185.57 366.70 184.86 366.95 184.51 367.20 184.67 367.45 185.26 367.70 186.06 367.95 186.78 368.20 187.29 368.45 187.59 368.70 187.72 368.95 187.78 369.20 187.79 369.45 187.78 369.70 187.74 369.95 187.62 370.20 187.33 370.45 186.80 370.70 185.97 370.95 184.97 371.20 184.06 371.45 183.61 371.70 183.81 371.95 184.57 372.20 185.58 372.45 186.49 372.70 187.11 372.95 187.40 373.20 187.39 373.45 187.10 373.70 186.57 373.95 185.91 374.20 185.31 374.45 185.01 374.70 185.14 374.95 185.65 375.20 186.31 375.45 186.91 375.70 187.30 375.95 187.40 376.20 187.19 376.45 186.61 376.70 185.66 376.95 184.49 377.20 183.44 377.45 182.92 377.70 183.15 377.95 184.03 378.20 185.21 378.45 186.28 378.70 187.04 378.95 187.47 379.20 187.64 379.45 187.62 379.70 187.42 379.95 187.01 380.20 186.36 380.45 185.57 380.70 184.86 380.95 184.51 381.20 184.67 381.45 185.26 381.70 186.05 381.95 186.77 382.20 187.28 382.45 187.54 382.70 187.61 382.95 187.52 383.20 187.26 383.45 186.75 383.70 185.89 383.95 184.60 384.20 182.83 384.45 180.66 384.70 178.30 384.95 176.10 385.20 174.46 385.45 173.72 385.70 173.98 385.95 175.06 386.20 176.76 386.45 178.82 386.70 180.93 386.95 182.85 387.20 184.41 387.45 185.52 387.70 186.19 387.95 186.47 388.20 186.49 388.45 186.42 388.70 186.42 388.95 186.56 389.20 186.85 389.45 187.17 389.70 187.44 389.95 187.63 390.20 187.72 390.45 187.76 390.70 187.73 390.95 187.62 391.20 187.37 391.45 186.93 391.70 186.32 391.95 185.65 392.20 185.14 392.45 185.01 392.70 185.31 392.95 185.91 393.20 186.58 393.45 187.13 393.70 187.49 393.95 187.68 394.20 187.76 394.45 187.78 394.70 187.78 394.95 187.74 395.20 187.66 395.45 187.49 395.70 187.23 395.95 186.92 396.20 186.64 396.45 186.50 396.70 186.57 396.95 186.80 397.20 187.11 397.45 187.40 397.70 187.60 397.95 187.71 398.20 187.74 398.45 187.71 398.70 187.60 398.95 187.37 399.20 187.02 399.45 186.59 399.70 186.20 399.95 186.01 400.20 186.09 400.45 186.42 400.70 186.85 400.95 187.24 401.20 187.52 401.45 187.68 401.70 187.76 401.95 187.78 402.20 187.76 402.45 187.68 402.70 187.49 402.95 187.13 403.20 186.58 403.45 185.91 403.70 185.31 403.95 185.01 404.20 185.14 404.45 185.65 404.70 186.32 404.95 186.93 405.20 187.37 405.45 187.62 405.70 187.73 405.95 187.77 406.20 187.77 406.45 187.72 406.70 187.60 406.95 187.37 407.20 187.02 407.45 186.59 407.70 186.20 407.95 186.01 408.20 186.09 408.45 186.42 408.70 186.85 408.95 187.24 409.20 187.52 409.45 187.68 409.70 187.76 409.95 187.79 410.20 187.79 410.45 187.79 410.70 187.77 410.95 187.68 411.20 187.46 411.45 186.97 411.70 186.08 411.95 184.77 412.20 183.25 412.45 181.99 412.70 181.48 412.95 181.94 413.20 183.12 413.45 184.45 413.70 185.35 413.95 185.40 414.20 184.26 414.45 181.59 414.70 176.87 414.95 169.49 415.20 158.92 415.45 144.98 415.70 128.15 415.95 109.74 416.20 91.80 416.45 76.83 416.70 67.16 416.95 64.26 417.20 66.40 417.45 72.04 417.70 80.21 417.95 89.71 418.20 99.31 418.45 108.11 418.70 115.62 418.95 121.87 419.20 127.30 419.45 132.53 419.70 138.04 419.95 143.20 420.20 148.02 420.45 152.66 420.70 157.20 420.95 161.63 421.20 165.88 421.45 169.86 421.70 173.48 421.95 176.66 422.20 179.35 422.45 181.57 422.70 183.33 422.95 184.68 423.20 185.68 423.45 186.40 423.70 186.90 423.95 187.24 424.20 187.46 424.45 187.59 424.70 187.68 424.95 187.71 425.20 187.71 425.45 187.66 425.70 187.57 425.95 187.46 426.20 187.35 426.45 187.30 426.70 187.32 426.95 187.42 427.20 187.54 427.45 187.65 427.70 187.72 427.95 187.77 428.20 187.79 428.45 187.80 428.70 187.80 428.95 187.80 429.20 187.80 429.45 187.80 429.70 187.78 429.95 187.74 430.20 187.64 430.45 187.44 430.70 187.10 430.95 186.65 431.20 186.18 431.45 185.86 431.70 185.83 431.95 186.09 432.20 186.55 432.45 187.02 432.70 187.39 432.95 187.61 433.20 187.73 433.45 187.78 433.70 187.79 433.95 187.80 434.20 187.80 434.45 187.79 434.70 187.77 434.95 187.69 435.20 187.48 435.45 187.03 435.70 186.19 435.95 184.96 436.20 183.54 436.45 182.36 436.70 181.90 436.95 182.36 437.20 183.54 437.45 184.95 437.70 186.17 437.95 186.95 438.20 187.28 438.45 187.26 438.70 186.98 438.95 186.58 439.20 186.20 439.45 186.01 439.70 186.09 439.95 186.42 440.20 186.85 440.45 187.24 440.70 187.50 440.95 187.63 441.20 187.61 441.45 187.48 441.70 187.23 441.95 186.92 442.20 186.64 442.45 186.50 442.70 186.57 442.95 186.80 443.20 187.11 443.45 187.39 443.70 187.57 443.95 187.64 444.20 187.57 444.45 187.36 444.70 187.01 444.95 186.58 445.20 186.20 445.45 186.01 445.70 186.09 445.95 186.42 446.20 186.84 446.45 187.23 446.70 187.48 446.95 187.55 447.20 187.45 447.45 187.17 447.70 186.74 447.95 186.26 448.20 185.90 448.45 185.81 448.70 186.02 448.95 186.45 449.20 186.93 449.45 187.32 449.70 187.58 449.95 187.71 450.20 187.77 450.45 187.79 450.70 187.79 450.95 187.77 451.20 187.71 451.45 187.59 451.70 187.36 451.95 187.03 452.20 186.64 452.45 186.32 452.70 186.20 452.95 186.32 453.20 186.64 453.45 187.03 453.70 187.36 453.95 187.59 454.20 187.71 454.45 187.75 454.70 187.71 454.95 187.58 455.20 187.28 455.45 186.75 455.70 186.00 455.95 185.19 456.20 184.57 456.45 184.41 456.70 184.78 456.95 185.51 457.20 186.32 457.45 186.99 457.70 187.42 457.95 187.64 458.20 187.73 458.45 187.72 458.70 187.63 458.95 187.44 459.20 187.15 459.45 186.79 459.70 186.47 459.95 186.30 460.20 186.38 460.45 186.65 460.70 187.01 460.95 187.34 461.20 187.57 461.45 187.70 461.70 187.74 461.95 187.71 462.20 187.60 462.45 187.37 462.70 187.02 462.95 186.59 463.20 186.20 463.45 186.01 463.70 186.09 463.95 186.42 464.20 186.85 464.45 187.24 464.70 187.52 464.95 187.68 465.20 187.74 465.45 187.73 465.70 187.65 465.95 187.49 466.20 187.23 466.45 186.92 466.70 186.64 466.95 186.50 467.20 186.57 467.45 186.80 467.70 187.11 467.95 187.40 468.20 187.60 468.45 187.71 468.70 187.74 468.95 187.70 469.20 187.58 469.45 187.32 469.70 186.93 469.95 186.45 470.20 186.02 470.45 185.81 470.70 185.90 470.95 186.26 471.20 186.74 471.45 187.18 471.70 187.49 471.95 187.66 472.20 187.73 472.45 187.72 472.70 187.64 472.95 187.47 473.20 187.19 473.45 186.86 473.70 186.55 473.95 186.40 474.20 186.47 474.45 186.72 474.70 187.06 474.95 187.37 475.20 187.58 475.45 187.70 475.70 187.74 475.95 187.71 476.20 187.59 476.45 187.35 476.70 186.97 476.95 186.52 477.20 186.11 477.45 185.91 477.70 186.00 477.95 186.34 478.20 186.80 478.45 187.21 478.70 187.51 478.95 187.67 479.20 187.73 479.45 187.72 479.70 187.62 479.95 187.42 480.20 187.10 480.45 186.72 480.70 186.38 480.95 186.21 481.20 186.28 481.45 186.57 481.70 186.95 481.95 187.30 482.20 187.55 482.45 187.69 482.70 187.73 482.95 187.70 483.20 187.58 483.45 187.32 483.70 186.93 483.95 186.45 484.20 186.02 484.45 185.81 484.70 185.90 484.95 186.26 485.20 186.74 485.45 187.18 485.70 187.49 485.95 187.67 486.20 187.75 486.45 187.77 486.70 187.73 486.95 187.61 487.20 187.32 487.45 186.78 487.70 185.93 487.95 184.90 488.20 183.98 488.45 183.51 488.70 183.72 488.95 184.50 489.20 185.52 489.45 186.46 489.70 187.11 489.95 187.44 490.20 187.50 490.45 187.34 490.70 187.01 490.95 186.58 491.20 186.20 491.45 186.01 491.70 186.09 491.95 186.42 492.20 186.85 492.45 187.24 492.70 187.52 492.95 187.68 493.20 187.74 493.45 187.72 493.70 187.63 493.95 187.44 494.20 187.15 494.45 186.79 494.70 186.47 494.95 186.30 495.20 186.38 495.45 186.65 495.70 187.01 495.95 187.34 496.20 187.57 496.45 187.69 496.70 187.74 496.95 187.70 497.20 187.58 497.45 187.32 497.70 186.93 497.95 186.45 498.20 186.02 498.45 185.81 498.70 185.90 498.95 186.26 499.20 186.74 499.45 187.18 499.70 187.49 499.95 187.66 500.20 187.73 500.45 187.72 500.70 187.62 500.95 187.42 501.20 187.10 501.45 186.72 501.70 186.38 501.95 186.21 502.20 186.28 502.45 186.57 502.70 186.95 502.95 187.30 503.20 187.55 503.45 187.68 503.70 187.71 503.95 187.62 504.20 187.34 504.45 186.76 504.70 185.78 504.95 184.45 505.20 183.09 505.45 182.17 505.70 182.07 505.95 182.85 506.20 184.17 506.45 185.53 506.70 186.57 506.95 187.18 507.20 187.39 507.45 187.30 507.70 187.00 507.95 186.58 508.20 186.20 508.45 186.01 508.70 186.09 508.95 186.42 509.20 186.85 509.45 187.24 509.70 187.52 509.95 187.68 510.20 187.74 510.45 187.73 510.70 187.64 510.95 187.47 511.20 187.19 511.45 186.86 511.70 186.55 511.95 186.40 512.20 186.47 512.45 186.72 512.70 187.06 512.95 187.37 513.20 187.58 513.45 187.70 513.70 187.74 513.95 187.71 514.20 187.60 514.45 187.37 514.70 187.02 514.95 186.59 515.20 186.20 515.45 186.01 515.70 186.09 515.95 186.42 516.20 186.85 516.45 187.24 516.70 187.52 516.95 187.68 517.20 187.74 517.45 187.73 517.70 187.65 517.95 187.49 518.20 187.23 518.45 186.92 518.70 186.64 518.95 186.50 519.20 186.57 519.45 186.80 519.70 187.11 519.95 187.40 520.20 187.60 520.45 187.71 520.70 187.74 520.95 187.70 521.20 187.58 521.45 187.32 521.70 186.93 521.95 186.45 522.20 186.02 522.45 185.81 522.70 185.90 522.95 186.26 523.20 186.74 523.45 187.18 523.70 187.49 523.95 187.66 524.20 187.73 524.45 187.72 524.70 187.62 524.95 187.42 525.20 187.10 525.45 186.72 525.70 186.38 525.95 186.21 526.20 186.28 526.45 186.57 526.70 186.95 526.95 187.31 527.20 187.55 527.45 187.70 527.70 187.76 527.95 187.79 528.20 187.80 528.45 187.80 528.70 187.80 528.95 187.80 529.50 186.00 530.20 179.00 530.80 173.00" fill="none" stroke="#ff6a6a" stroke-width="0.72" stroke-linejoin="round"/>
<path d="M67.10 264.40L67.80 290.00 68.60 315.00 69.40 337.70 70.20 358.00 71.00 372.00 71.60 380.00 72.30 388.00 72.60 394.81 72.85 392.81 73.10 390.18 73.35 387.12 73.60 384.06 73.85 381.59 74.10 380.21 74.35 380.24 74.60 381.57 74.85 383.78 75.10 386.26 75.35 388.43 75.60 389.95 75.85 390.79 76.10 391.15 76.35 391.33 76.60 391.60 76.85 392.06 77.10 392.59 77.35 392.92 77.60 392.66 77.85 391.47 78.10 389.14 78.35 385.73 78.60 381.64 78.85 377.58 79.10 374.39 79.35 372.80 79.60 373.13 79.85 375.14 80.10 378.19 80.35 381.43 80.60 384.18 80.85 386.09 81.10 387.16 81.35 387.64 81.60 387.71 81.85 387.42 82.10 386.61 82.35 385.04 82.60 382.64 82.85 379.65 83.10 376.68 83.35 374.50 83.60 373.79 83.85 374.81 84.10 377.32 84.35 380.66 84.60 384.02 84.85 386.70 85.10 388.38 85.35 389.10 85.60 389.21 85.85 389.08 86.10 389.00 86.35 388.98 86.60 388.79 86.85 388.08 87.10 386.56 87.35 384.18 87.60 381.29 87.85 378.54 88.10 376.67 88.35 376.26 88.60 377.47 88.85 380.01 89.10 383.19 89.35 386.28 89.60 388.67 89.85 390.12 90.10 390.69 90.35 390.73 90.60 390.64 90.85 390.77 91.10 391.32 91.35 392.24 91.60 393.38 91.85 394.44 92.10 395.03 92.35 394.54 92.60 392.13 92.85 386.98 93.10 379.08 93.35 370.02 93.60 362.90 93.85 360.68 94.10 363.17 94.35 368.70 94.60 375.17 94.85 380.65 95.10 384.18 95.35 385.81 95.60 386.20 95.85 386.02 96.10 385.61 96.35 384.95 96.60 383.82 96.85 382.09 97.10 379.93 97.35 377.84 97.60 376.47 97.85 376.37 98.10 377.73 98.35 380.28 98.60 383.41 98.85 386.44 99.10 388.82 99.35 390.33 99.60 391.05 99.85 391.28 100.10 391.36 100.35 391.54 100.60 391.87 100.85 392.25 101.10 392.47 101.35 392.35 101.60 391.85 101.85 391.09 102.10 390.33 102.35 389.85 102.60 389.88 102.85 390.43 103.10 391.39 103.35 392.49 103.60 393.44 103.85 394.07 104.10 394.30 104.35 394.23 104.60 394.03 104.85 393.88 105.10 393.94 105.35 394.24 105.60 394.70 105.85 395.18 106.10 395.43 106.35 395.18 106.60 394.16 106.85 392.10 107.10 388.86 107.35 384.57 107.60 379.65 107.85 374.89 108.10 371.25 108.35 369.52 108.60 370.10 108.85 372.73 109.10 376.65 109.35 380.88 109.60 384.51 109.85 387.03 110.10 388.40 110.35 388.91 110.60 389.02 110.85 389.09 111.10 389.26 111.35 389.36 111.60 389.06 111.85 387.98 112.10 385.94 112.35 383.09 112.60 379.96 112.85 377.29 113.10 375.82 113.35 375.97 113.60 377.69 113.85 380.48 114.10 383.60 114.35 386.34 114.60 388.29 114.85 389.38 115.10 389.83 115.35 389.98 115.60 390.11 115.85 390.25 116.10 390.22 116.35 389.71 116.60 388.38 116.85 386.15 117.10 383.24 117.35 380.17 117.60 377.66 117.85 376.32 118.10 376.44 118.35 377.86 118.60 380.04 118.85 382.34 119.10 384.23 119.35 385.42 119.60 385.90 119.85 385.75 120.10 385.05 120.35 383.86 120.60 382.26 120.85 380.52 121.10 379.05 121.35 378.35 121.60 378.79 121.85 380.42 122.10 382.94 122.35 385.79 122.60 388.39 122.85 390.31 123.10 391.39 123.35 391.75 123.60 391.71 123.85 391.60 124.10 391.64 124.35 391.90 124.60 392.24 124.85 392.40 125.10 392.12 125.35 391.22 125.60 389.77 125.85 388.03 126.10 386.41 126.35 385.33 126.60 385.05 126.85 385.60 127.10 386.71 127.35 388.01 127.60 389.16 127.85 389.98 128.10 390.51 128.35 390.92 128.60 391.40 128.85 392.05 129.10 392.79 129.35 393.39 129.60 393.50 129.85 392.75 130.10 390.85 130.35 387.66 130.60 383.36 130.85 378.50 131.10 373.93 131.35 370.64 131.60 369.40 131.85 370.44 132.10 373.39 132.35 377.29 132.60 380.95 132.85 383.23 133.10 383.41 133.35 381.31 133.60 377.35 133.85 372.54 134.10 368.15 134.35 365.44 134.60 365.23 134.85 367.62 135.10 372.03 135.35 377.36 135.60 382.43 135.85 386.28 136.10 388.42 136.35 388.79 136.60 387.74 136.85 385.87 137.10 383.83 137.35 382.17 137.60 381.09 137.85 380.43 138.10 379.66 138.35 378.20 138.60 375.72 138.85 372.37 139.10 368.87 139.35 366.24 139.60 365.35 139.85 366.58 140.10 369.60 140.35 373.55 140.60 377.39 140.85 380.32 141.10 382.08 141.35 382.91 141.60 383.36 141.85 384.02 142.10 385.21 142.35 386.90 142.60 388.76 142.85 390.31 143.10 391.10 143.35 390.84 143.60 389.51 143.85 387.39 144.10 384.98 144.35 382.90 144.60 381.73 144.85 381.76 145.10 382.96 145.35 384.94 145.60 387.17 145.85 389.15 146.10 390.59 146.35 391.47 146.60 391.95 146.85 392.30 147.10 392.67 147.35 393.12 147.60 393.47 147.85 393.44 148.10 392.68 148.35 390.91 148.60 388.03 148.85 384.22 149.10 380.02 149.35 376.22 149.60 373.65 149.85 372.94 150.10 374.19 150.35 377.03 150.60 380.70 150.85 384.36 151.10 387.38 151.35 389.50 151.60 390.80 151.85 391.53 152.10 391.98 152.35 392.29 152.60 392.45 152.85 392.36 153.10 391.90 153.35 391.09 153.60 390.11 153.85 389.23 154.10 388.76 154.35 388.88 154.60 389.58 154.85 390.68 155.10 391.90 155.35 392.96 155.60 393.71 155.85 394.13 156.10 394.30 156.35 394.33 156.60 394.27 156.85 394.11 157.10 393.77 157.35 393.17 157.60 392.31 157.85 391.31 158.10 390.40 158.35 389.84 158.60 389.78 158.85 390.23 159.10 391.06 159.35 391.99 159.60 392.77 159.85 393.28 160.10 393.49 160.35 393.52 160.60 393.50 160.85 393.51 161.10 393.48 161.35 393.21 161.60 392.37 161.85 390.67 162.10 387.96 162.35 384.37 162.60 380.38 162.85 376.76 163.10 374.33 163.35 373.69 163.60 374.96 163.85 377.77 164.10 381.33 164.35 384.79 164.60 387.46 164.85 389.06 165.10 389.65 165.35 389.59 165.60 389.30 165.85 389.09 166.10 389.05 166.35 389.00 166.60 388.66 166.85 387.75 167.10 386.24 167.35 384.36 167.60 382.59 167.85 381.49 168.10 381.44 168.35 382.47 168.60 384.31 168.85 386.44 169.10 388.36 169.35 389.75 169.60 390.55 169.85 390.95 170.10 391.23 170.35 391.63 170.60 392.23 170.85 392.99 171.10 393.75 171.35 394.35 171.60 394.70 171.85 394.81 172.10 394.78 172.35 394.73 172.60 394.76 172.85 394.91 173.10 395.14 173.35 395.37 173.60 395.56 173.85 395.65 174.10 395.68 174.35 395.68 174.60 395.67 174.85 395.59 175.10 395.31 175.35 394.59 175.60 393.19 175.85 390.91 176.10 387.75 176.35 383.98 176.60 380.17 176.85 377.07 177.10 375.39 177.35 375.53 177.60 377.42 177.85 380.55 178.10 384.15 178.35 387.50 178.60 390.10 178.85 391.79 179.10 392.71 179.35 393.14 179.60 393.34 179.85 393.50 180.10 393.62 180.35 393.61 180.60 393.38 180.85 392.87 181.10 392.15 181.35 391.43 181.60 390.95 181.85 390.89 182.10 391.33 182.35 392.17 182.60 393.15 182.85 393.86 183.10 393.79 183.35 392.25 183.60 388.39 183.85 381.35 184.10 370.64 184.35 356.66 184.60 341.08 184.85 326.80 185.10 317.15 185.35 314.59 185.60 318.71 185.85 327.97 186.10 340.32 186.35 353.38 186.60 365.15 186.85 374.47 187.10 381.06 187.35 385.30 187.60 387.85 187.85 389.34 188.10 390.21 188.35 390.73 188.60 391.06 188.85 391.30 189.10 391.48 189.35 391.54 189.60 391.31 189.85 390.53 190.10 388.98 190.35 386.59 190.60 383.61 190.85 380.56 191.10 378.17 191.35 377.04 191.60 377.48 191.85 379.38 192.10 382.20 192.35 385.29 192.60 388.04 192.85 390.13 193.10 391.50 193.35 392.30 193.60 392.70 193.85 392.77 194.10 392.42 194.35 391.40 194.60 389.43 194.85 386.26 195.10 381.84 195.35 376.38 195.60 370.41 195.85 364.68 196.10 360.08 196.35 357.39 196.60 357.01 196.85 358.39 197.10 361.10 197.35 364.63 197.60 368.32 197.85 371.51 198.10 373.72 198.35 374.76 198.60 374.87 198.85 374.58 199.10 374.61 199.35 375.53 199.60 377.58 199.85 380.55 200.10 383.91 200.35 386.99 200.60 389.27 200.85 390.46 201.10 390.65 201.35 390.14 201.60 389.41 201.85 388.91 202.10 388.97 202.35 389.66 202.60 390.87 202.85 392.31 203.10 393.63 203.35 394.51 203.60 394.69 203.85 394.00 204.10 392.33 204.35 389.75 204.60 386.51 204.85 383.08 205.10 380.12 205.35 378.22 205.60 377.77 205.85 378.76 206.10 380.77 206.35 383.18 206.60 385.41 206.85 387.11 207.10 388.23 207.35 388.95 207.60 389.50 207.85 390.02 208.10 390.52 208.35 390.90 208.60 391.11 208.85 391.16 209.10 391.18 209.35 391.34 209.60 391.75 209.85 392.41 210.10 393.21 210.35 393.94 210.60 394.41 210.85 394.52 211.10 394.27 211.35 393.80 211.60 393.29 211.85 392.95 212.10 392.92 212.35 393.21 212.60 393.68 212.85 394.16 213.10 394.40 213.35 394.23 213.60 393.61 213.85 392.61 214.10 391.48 214.35 390.49 214.60 389.92 214.85 389.91 215.10 390.42 215.35 391.24 215.60 392.11 215.85 392.74 216.10 393.01 216.35 392.92 216.60 392.60 216.85 392.17 217.10 391.71 217.35 391.16 217.60 390.35 217.85 389.15 218.10 387.55 218.35 385.76 218.60 384.17 218.85 383.23 219.10 383.26 219.35 384.32 219.60 386.13 219.85 388.23 220.10 390.11 220.35 391.42 220.60 392.06 220.85 392.13 221.10 391.92 221.35 391.75 221.60 391.84 221.85 392.26 222.10 392.95 222.35 393.70 222.60 394.31 222.85 394.63 223.10 394.62 223.35 394.37 223.60 394.00 223.85 393.65 224.10 393.41 224.35 393.25 224.60 393.08 224.85 392.77 225.10 392.27 225.35 391.64 225.60 391.05 225.85 390.70 226.10 390.75 226.35 391.17 226.60 391.80 226.85 392.31 227.10 392.31 227.35 391.48 227.60 389.70 227.85 387.09 228.10 384.06 228.35 381.25 228.60 379.31 228.85 378.69 229.10 379.48 229.35 381.36 229.60 383.72 229.85 385.90 230.10 387.49 230.35 388.35 230.60 388.66 230.85 388.73 231.10 388.78 231.35 388.85 231.60 388.78 231.85 388.28 232.10 387.14 232.35 385.39 232.60 383.36 232.85 381.59 233.10 380.64 233.35 380.85 233.60 382.21 233.85 384.35 234.10 386.70 234.35 388.75 234.60 390.16 234.85 390.91 235.10 391.20 235.35 391.35 235.60 391.61 235.85 392.12 236.10 392.85 236.35 393.65 236.60 394.37 236.85 394.89 237.10 395.19 237.35 395.30 237.60 395.25 237.85 395.07 238.10 394.74 238.35 394.23 238.60 393.57 238.85 392.83 239.10 392.14 239.35 391.66 239.60 391.46 239.85 391.46 240.10 391.46 240.35 391.17 240.60 390.38 240.85 389.03 241.10 387.34 241.35 385.69 241.60 384.57 241.85 384.35 242.10 385.14 242.35 386.75 242.60 388.77 242.85 390.71 243.10 392.18 243.35 392.95 243.60 393.07 243.85 392.74 244.10 392.25 244.35 391.89 244.60 391.85 244.85 392.13 245.10 392.55 245.35 392.80 245.60 392.51 245.85 391.37 246.10 389.24 246.35 386.25 246.60 382.85 246.85 379.68 247.10 377.44 247.35 376.58 247.60 377.20 247.85 378.94 248.10 381.22 248.35 383.40 248.60 385.10 248.85 386.21 249.10 386.84 249.35 387.14 249.60 387.25 249.85 387.18 250.10 386.96 250.35 386.69 250.60 386.55 250.85 386.78 251.10 387.52 251.35 388.73 251.60 390.20 251.85 391.61 252.10 392.67 252.35 393.18 252.60 393.16 252.85 392.76 253.10 392.26 253.35 391.92 253.60 391.94 253.85 392.36 254.10 393.07 254.35 393.85 254.60 394.46 254.85 394.68 255.10 394.39 255.35 393.61 255.60 392.50 255.85 391.30 256.10 390.31 256.35 389.76 256.60 389.73 256.85 390.14 257.10 390.75 257.35 391.30 257.60 391.60 257.85 391.63 258.10 391.50 258.35 391.40 258.60 391.48 258.85 391.73 259.10 392.03 259.35 392.12 259.60 391.77 259.85 390.88 260.10 389.55 260.35 388.07 260.60 386.85 260.85 386.27 261.10 386.48 261.35 387.41 261.60 388.76 261.85 390.10 262.10 391.12 262.35 391.64 262.60 391.74 262.85 391.63 263.10 391.56 263.35 391.72 263.60 392.10 263.85 392.56 264.10 392.81 264.35 392.60 264.60 391.76 264.85 390.33 265.10 388.54 265.35 386.83 265.60 385.62 265.85 385.24 266.10 385.75 266.35 386.94 266.60 388.40 266.85 389.74 267.10 390.65 267.35 391.09 267.60 391.19 267.85 391.18 268.10 391.25 268.35 391.45 268.60 391.73 268.85 391.93 269.10 391.95 269.35 391.78 269.60 391.51 269.85 391.31 270.10 391.29 270.35 391.46 270.60 391.73 270.85 391.94 271.10 391.97 271.35 391.82 271.60 391.60 271.85 391.49 272.10 391.62 272.35 391.98 272.60 392.41 272.85 392.58 273.10 392.13 273.35 390.72 273.60 388.21 273.85 384.77 274.10 380.90 274.35 377.34 274.60 374.90 274.85 374.12 275.10 375.09 275.35 377.41 275.60 380.31 275.85 383.00 276.10 384.94 276.35 386.00 276.60 386.39 276.85 386.52 277.10 386.74 277.35 387.20 277.60 387.79 277.85 388.29 278.10 388.52 278.35 388.45 278.60 388.25 278.85 388.21 279.10 388.58 279.35 389.46 279.60 390.74 279.85 392.19 280.10 393.50 280.35 394.42 280.60 394.81 280.85 394.65 281.10 394.07 281.35 393.27 281.60 392.50 281.85 391.99 282.10 391.87 282.35 392.11 282.60 392.55 282.85 392.94 283.10 393.02 283.35 392.63 283.60 391.79 283.85 390.68 284.10 389.63 284.35 388.96 284.60 388.90 284.85 389.46 285.10 390.46 285.35 391.58 285.60 392.49 285.85 392.97 286.10 392.96 286.35 392.57 286.60 392.01 286.85 391.50 287.10 391.15 287.35 390.95 287.60 390.74 287.85 390.35 288.10 389.69 288.35 388.84 288.60 388.03 288.85 387.57 289.10 387.70 289.35 388.47 289.60 389.71 289.85 391.11 290.10 392.31 290.35 393.09 290.60 393.38 290.85 393.26 291.10 392.95 291.35 392.66 291.60 392.52 291.85 392.54 292.10 392.61 292.35 392.58 292.60 392.32 292.85 391.83 293.10 391.26 293.35 390.83 293.60 390.76 293.85 391.15 294.10 391.97 294.35 393.02 294.60 394.08 294.85 394.91 295.10 395.39 295.35 395.46 295.60 395.20 295.85 394.76 296.10 394.30 296.35 394.01 296.60 393.98 296.85 394.23 297.10 394.69 297.35 395.22 297.60 395.69 297.85 396.00 298.10 396.13 298.35 396.10 298.60 396.01 298.85 395.94 299.10 395.98 299.35 396.13 299.60 396.37 299.85 396.66 300.10 396.89 300.35 396.98 300.60 396.82 300.85 396.30 301.10 395.30 301.35 393.74 301.60 391.63 301.85 389.17 302.10 386.71 302.35 384.69 302.60 383.55 302.85 383.50 303.10 384.45 303.35 386.01 303.60 387.68 303.85 388.99 304.10 389.68 304.35 389.79 304.60 389.57 304.85 389.35 305.10 389.36 305.35 389.64 305.60 390.01 305.85 390.18 306.10 389.86 306.35 388.96 306.60 387.60 306.85 386.14 307.10 384.99 307.35 384.47 307.60 384.67 307.85 385.47 308.10 386.56 308.35 387.68 308.60 388.64 308.85 389.39 309.10 389.92 309.35 390.12 309.60 389.81 309.85 388.71 310.10 386.63 310.35 383.65 310.60 380.18 310.85 376.93 311.10 374.68 311.35 374.01 311.60 375.05 311.85 377.39 312.10 380.30 312.35 382.99 312.60 384.93 312.85 385.96 313.10 386.29 313.35 386.30 313.60 386.30 313.85 386.38 314.10 386.40 314.35 386.13 314.60 385.42 314.85 384.37 315.10 383.31 315.35 382.66 315.60 382.76 315.85 383.65 316.10 385.13 316.35 386.78 316.60 388.22 316.85 389.21 317.10 389.71 317.35 389.88 317.60 389.87 317.85 389.83 318.10 389.82 318.35 389.87 318.60 390.01 318.85 390.29 319.10 390.74 319.35 391.35 319.60 392.02 319.85 392.63 320.10 393.05 320.35 393.26 320.60 393.32 320.85 393.34 321.10 393.45 321.35 393.67 321.60 394.00 321.85 394.38 322.10 394.74 322.35 395.07 322.60 395.37 322.85 395.67 323.10 396.01 323.35 396.37 323.60 396.74 323.85 397.07 324.10 397.33 324.35 397.52 324.60 397.65 324.85 397.71 325.10 397.73 325.35 397.68 325.60 397.55 325.85 397.24 326.10 396.61 326.35 395.42 326.60 393.33 326.85 389.91 327.10 384.71 327.35 377.40 327.60 367.93 327.85 356.71 328.10 344.71 328.35 333.36 328.60 324.32 328.85 319.09 329.10 318.50 329.35 321.80 329.60 328.32 329.85 337.19 330.10 347.32 330.35 357.61 330.60 367.06 330.85 374.99 331.10 380.98 331.35 384.94 331.60 387.02 331.85 387.59 332.10 387.16 332.35 386.25 332.60 385.24 332.85 384.33 333.10 383.44 333.35 382.40 333.60 381.08 333.85 379.56 334.10 378.21 334.35 377.47 334.60 377.72 334.85 379.00 335.10 381.01 335.35 383.24 335.60 385.19 335.85 386.59 336.10 387.45 336.35 388.01 336.60 388.52 336.85 389.15 337.10 389.90 337.35 390.70 337.60 391.44 337.85 392.09 338.10 392.70 338.35 393.32 338.60 394.02 338.85 394.77 339.10 395.51 339.35 396.14 339.60 396.58 339.85 396.79 340.10 396.77 340.35 396.52 340.60 396.13 340.85 395.68 341.10 395.28 341.35 395.04 341.60 395.01 341.85 395.21 342.10 395.56 342.35 395.95 342.60 396.25 342.85 396.28 343.10 395.91 343.35 395.02 343.60 393.54 343.85 391.53 344.10 389.22 344.35 386.96 344.60 385.19 344.85 384.29 345.10 384.39 345.35 385.36 345.60 386.83 345.85 388.35 346.10 389.56 346.35 390.31 346.60 390.68 346.85 390.85 347.10 391.01 347.35 391.23 347.60 391.44 347.85 391.52 348.10 391.38 348.35 391.04 348.60 390.64 348.85 390.37 349.10 390.38 349.35 390.70 349.60 391.21 349.85 391.73 350.10 392.11 350.35 392.28 350.60 392.34 350.85 392.41 351.10 392.65 351.35 393.10 351.60 393.69 351.85 394.29 352.10 394.70 352.35 394.81 352.60 394.58 352.85 394.09 353.10 393.52 353.35 393.07 353.60 392.88 353.85 393.03 354.10 393.44 354.35 393.97 354.60 394.42 354.85 394.65 355.10 394.60 355.35 394.35 355.60 393.99 355.85 393.66 356.10 393.42 356.35 393.22 356.60 392.89 356.85 392.26 357.10 391.22 357.35 389.80 357.60 388.25 357.85 386.93 358.10 386.19 358.35 386.26 358.60 387.08 358.85 388.39 359.10 389.79 359.35 390.91 359.60 391.54 359.85 391.71 360.10 391.60 360.35 391.45 360.60 391.46 360.85 391.65 361.10 391.92 361.35 392.06 361.60 391.91 361.85 391.42 362.10 390.72 362.35 390.05 362.60 389.69 362.85 389.80 363.10 390.37 363.35 391.23 363.60 392.10 363.85 392.75 364.10 393.05 364.35 393.02 364.60 392.84 364.85 392.70 365.10 392.75 365.35 393.06 365.60 393.52 365.85 393.99 366.10 394.32 366.35 394.40 366.60 394.27 366.85 394.04 367.10 393.85 367.35 393.84 367.60 394.04 367.85 394.38 368.10 394.71 368.35 394.84 368.60 394.61 368.85 393.96 369.10 392.94 369.35 391.76 369.60 390.70 369.85 390.02 370.10 389.90 370.35 390.30 370.60 391.00 370.85 391.65 371.10 391.86 371.35 391.31 371.60 389.94 371.85 387.91 372.10 385.66 372.35 383.75 372.60 382.70 372.85 382.83 373.10 384.10 373.35 386.13 373.60 388.33 373.85 390.05 374.10 390.72 374.35 389.86 374.60 387.20 374.85 382.60 375.10 376.16 375.35 368.31 375.60 359.80 375.85 351.72 376.10 345.26 376.35 341.52 376.60 341.04 376.85 342.98 377.10 346.84 377.35 352.08 377.60 358.03 377.85 363.95 378.10 369.16 378.35 373.24 378.60 376.04 378.85 377.77 379.10 378.87 379.35 379.89 379.60 381.26 379.85 383.14 380.10 385.36 380.35 387.58 380.60 389.42 380.85 390.64 381.10 391.23 381.35 391.38 381.60 391.35 381.85 391.38 382.10 391.58 382.35 391.86 382.60 392.05 382.85 391.96 383.10 391.54 383.35 390.86 383.60 390.14 383.85 389.66 384.10 389.56 384.35 389.84 384.60 390.28 384.85 390.54 385.10 390.29 385.35 389.38 385.60 387.92 385.85 386.24 386.10 384.85 386.35 384.16 386.60 384.39 386.85 385.48 387.10 387.07 387.35 388.73 387.60 390.10 387.85 391.00 388.10 391.47 388.35 391.69 388.60 391.84 388.85 392.06 389.10 392.37 389.35 392.75 389.60 393.17 389.85 393.61 390.10 394.05 390.35 394.50 390.60 394.93 390.85 395.28 391.10 395.52 391.35 395.64 391.60 395.70 391.85 395.76 392.10 395.86 392.35 396.05 392.60 396.31 392.85 396.58 393.10 396.81 393.35 396.97 393.60 397.04 393.85 397.03 394.10 396.99 394.35 396.94 394.60 396.92 394.85 396.90 395.10 396.86 395.35 396.74 395.60 396.47 395.85 396.05 396.10 395.49 396.35 394.89 396.60 394.36 396.85 394.03 397.10 394.00 397.35 394.25 397.60 394.69 397.85 395.18 398.10 395.51 398.35 395.54 398.60 395.14 398.85 394.32 399.10 393.17 399.35 391.89 399.60 390.77 399.85 390.06 400.10 389.94 400.35 390.40 400.60 391.24 400.85 392.19 401.10 392.93 401.35 393.26 401.60 393.14 401.85 392.67 402.10 392.08 402.35 391.56 402.60 391.24 402.85 391.11 403.10 391.00 403.35 390.75 403.60 390.26 403.85 389.58 404.10 388.91 404.35 388.53 404.60 388.64 404.85 389.27 405.10 390.25 405.35 391.26 405.60 391.97 405.85 392.17 406.10 391.82 406.35 391.07 406.60 390.19 406.85 389.47 407.10 389.04 407.35 388.88 407.60 388.80 407.85 388.54 408.10 387.97 408.35 387.14 408.60 386.33 408.85 385.87 409.10 386.03 409.35 386.85 409.60 388.11 409.85 389.43 410.10 390.37 410.35 390.67 410.60 390.27 410.85 389.38 411.10 388.38 411.35 387.63 411.60 387.35 411.85 387.50 412.10 387.79 412.35 387.79 412.60 387.13 412.85 385.70 413.10 383.71 413.35 381.70 413.60 380.27 413.85 379.90 414.10 380.72 414.35 382.47 414.60 384.60 414.85 386.56 415.10 387.94 415.35 388.68 415.60 388.97 415.85 389.17 416.10 389.60 416.35 390.44 416.60 391.63 416.85 393.00 417.10 394.33 417.35 395.39 417.60 396.08 417.85 396.34 418.10 396.19 418.35 395.71 418.60 394.99 418.85 394.18 419.10 393.48 419.35 393.04 419.60 392.96 419.85 393.23 420.10 393.75 420.35 394.31 420.60 394.74 420.85 394.91 421.10 394.80 421.35 394.48 421.60 394.10 421.85 393.80 422.10 393.67 422.35 393.71 422.60 393.85 422.85 393.97 423.10 393.99 423.35 393.89 423.60 393.75 423.85 393.70 424.10 393.85 424.35 394.22 424.60 394.80 424.85 395.47 425.10 396.12 425.35 396.65 425.60 397.00 425.85 397.14 426.10 397.06 426.35 396.78 426.60 396.34 426.85 395.78 427.10 395.22 427.35 394.76 427.60 394.51 427.85 394.51 428.10 394.76 428.35 395.14 428.60 395.52 428.85 395.75 429.10 395.71 429.35 395.38 429.60 394.79 429.85 394.08 430.10 393.44 430.35 393.05 430.60 393.01 430.85 393.36 431.10 393.99 431.35 394.74 431.60 395.42 431.85 395.86 432.10 395.97 432.35 395.72 432.60 395.17 432.85 394.44 433.10 393.72 433.35 393.18 433.60 392.98 433.85 393.17 434.10 393.69 434.35 394.39 434.60 395.08 434.85 395.59 435.10 395.81 435.35 395.70 435.60 395.33 435.85 394.82 436.10 394.33 436.35 394.03 436.60 394.02 436.85 394.30 437.10 394.83 437.35 395.48 437.60 396.11 437.85 396.60 438.10 396.87 438.35 396.81 438.60 396.29 438.85 395.13 439.10 393.02 439.35 389.62 439.60 384.57 439.85 377.70 440.10 369.09 440.35 359.28 440.60 349.24 440.85 340.26 441.10 333.72 441.35 330.67 441.60 331.18 441.85 334.28 442.10 339.40 442.35 345.76 442.60 352.48 442.85 358.72 443.10 363.85 443.35 367.53 443.60 369.71 443.85 370.63 444.10 370.72 444.35 370.50 444.60 370.45 444.85 370.94 445.10 371.82 445.35 373.01 445.60 374.54 445.85 376.37 446.10 378.40 446.35 380.52 446.60 382.59 446.85 384.45 447.10 385.97 447.35 387.10 447.60 387.84 447.85 388.31 448.10 388.69 448.35 389.17 448.60 389.91 448.85 390.93 449.10 392.15 449.35 393.41 449.60 394.51 449.85 395.31 450.10 395.74 450.35 395.83 450.60 395.65 450.85 395.35 451.10 395.08 451.35 394.94 451.60 394.99 451.85 395.20 452.10 395.49 452.35 395.72 452.60 395.79 452.85 395.62 453.10 395.25 453.35 394.76 453.60 394.29 453.85 393.99 454.10 393.94 454.35 394.15 454.60 394.52 454.85 394.92 455.10 395.18 455.35 395.20 455.60 394.98 455.85 394.61 456.10 394.22 456.35 393.97 456.60 393.98 456.85 394.26 457.10 394.76 457.35 395.32 457.60 395.79 457.85 396.03 458.10 395.93 458.35 395.48 458.60 394.72 458.85 393.78 459.10 392.87 459.35 392.19 459.60 391.91 459.85 392.05 460.10 392.53 460.35 393.14 460.60 393.66 460.85 393.91 461.10 393.84 461.35 393.52 461.60 393.14 461.85 392.90 462.10 392.95 462.35 393.35 462.60 394.03 462.85 394.83 463.10 395.59 463.35 396.16 463.60 396.42 463.85 396.32 464.10 395.82 464.35 394.97 464.60 393.87 464.85 392.71 465.10 391.70 465.35 391.10 465.60 391.03 465.85 391.52 466.10 392.41 466.35 393.48 466.60 394.46 466.85 395.14 467.10 395.41 467.35 395.24 467.60 394.74 467.85 394.07 468.10 393.44 468.35 393.05 468.60 393.02 468.85 393.38 469.10 394.05 469.35 394.86 469.60 395.63 469.85 396.20 470.10 396.39 470.35 395.99 470.60 394.69 470.85 392.05 471.10 387.54 471.35 380.64 471.60 371.18 471.85 359.54 472.10 346.87 472.35 335.02 472.60 326.09 472.85 321.87 473.10 322.56 473.35 326.70 473.60 333.46 473.85 341.69 474.10 350.16 474.35 357.82 474.60 363.98 474.85 368.40 475.10 371.24 475.35 372.90 475.60 373.89 475.85 374.65 476.10 375.14 476.35 375.41 476.60 375.69 476.85 376.20 477.10 377.11 477.35 378.57 477.60 380.57 477.85 382.98 478.10 385.51 478.35 387.87 478.60 389.77 478.85 391.07 479.10 391.77 479.35 392.01 479.60 392.01 479.85 392.01 480.10 392.14 480.35 392.45 480.60 392.85 480.85 393.23 481.10 393.47 481.35 393.55 481.60 393.53 481.85 393.54 482.10 393.66 482.35 393.92 482.60 394.23 482.85 394.44 483.10 394.40 483.35 394.00 483.60 393.27 483.85 392.36 484.10 391.52 484.35 390.98 484.60 390.92 484.85 391.34 485.10 392.10 485.35 392.94 485.60 393.62 485.85 393.95 486.10 393.90 486.35 393.58 486.60 393.17 486.85 392.90 487.10 392.92 487.35 393.25 487.60 393.82 487.85 394.46 488.10 395.00 488.35 395.32 488.60 395.38 488.85 395.25 489.10 395.03 489.35 394.85 489.60 394.80 489.85 394.87 490.10 395.02 490.35 395.15 490.60 395.18 490.85 395.10 491.10 394.95 491.35 394.82 491.60 394.78 491.85 394.86 492.10 395.02 492.35 395.16 492.60 395.16 492.85 394.93 493.10 394.47 493.35 393.87 493.60 393.30 493.85 392.93 494.10 392.85 494.35 393.06 494.60 393.41 494.85 393.70 495.10 393.71 495.35 393.31 495.60 392.51 495.85 391.48 496.10 390.46 496.35 389.72 496.60 389.39 496.85 389.44 497.10 389.65 497.35 389.74 497.60 389.52 497.85 388.95 498.10 388.23 498.35 387.68 498.60 387.63 498.85 388.24 499.10 389.47 499.35 391.09 499.60 392.77 499.85 394.19 500.10 395.13 500.35 395.42 500.60 395.01 500.85 393.87 501.10 392.10 501.35 389.92 501.60 387.64 501.85 385.67 502.10 384.36 502.35 383.86 502.60 384.07 502.85 384.72 503.10 385.47 503.35 386.10 503.60 386.61 503.85 387.13 504.10 387.82 504.35 388.64 504.60 389.29 504.85 389.21 505.10 387.76 505.35 384.57 505.60 379.95 505.85 375.00 506.10 371.32 506.35 370.24 506.60 371.59 506.85 374.58 507.10 378.17 507.35 381.29 507.60 383.27 507.85 384.02 508.10 383.94 508.35 383.61 508.60 383.48 508.85 383.70 509.10 384.08 509.35 384.28 509.60 384.07 509.85 383.44 510.10 382.68 510.35 382.20 510.60 382.35 510.85 383.20 511.10 384.53 511.35 385.96 511.60 387.14 511.85 387.92 512.10 388.38 512.35 388.76 512.60 389.32 512.85 390.19 513.10 391.31 513.35 392.47 513.60 393.42 513.85 393.94 514.10 393.96 514.35 393.55 514.60 392.91 514.85 392.30 515.10 391.96 515.35 392.03 515.60 392.53 515.85 393.31 516.10 394.18 516.35 394.90 516.60 395.32 516.85 395.39 517.10 395.13 517.35 394.67 517.60 394.15 517.85 393.70 518.10 393.37 518.35 393.12 518.60 392.83 518.85 392.37 519.10 391.69 519.35 390.88 519.60 390.10 519.85 389.60 520.10 389.51 520.35 389.81 520.60 390.29 520.85 390.64 521.10 390.60 521.35 390.02 521.60 389.01 521.85 387.84 522.10 386.85 522.35 386.31 522.60 386.29 522.85 386.67 523.10 387.23 523.35 387.76 523.60 388.15 523.85 388.41 524.10 388.56 524.35 388.59 524.60 388.43 524.85 388.04 525.10 387.46 525.35 386.86 525.60 386.51 525.85 386.64 526.10 387.32 526.35 388.42 526.60 389.63 526.85 390.65 527.10 391.28 527.35 391.51 527.60 391.51 527.85 391.51 528.10 391.74 528.35 392.27 528.60 393.06 528.85 393.93 529.10 394.69 529.35 395.21 529.60 395.41 529.85 395.36 530.10 395.17 530.35 394.99 530.60 394.95" fill="none" stroke="#ff6a6a" stroke-width="0.72" stroke-linejoin="round"/>
<path d="M67.60 599.36L67.75 599.47 67.90 599.78 68.05 600.22 68.20 600.65 68.35 600.97 68.50 601.11 69.03 599.78 69.57 596.42 70.10 590.60 70.63 586.25 71.17 583.60 71.70 581.69 72.05 582.60 72.40 584.76 72.75 587.33 73.10 590.37 73.45 593.11 73.80 593.80 74.17 591.65 74.53 588.45 74.90 585.29 75.27 581.83 75.63 578.87 76.00 577.86 76.33 578.67 76.67 580.36 77.00 583.08 77.33 586.69 77.67 589.59 78.00 590.21 78.37 589.18 78.73 588.32 79.10 587.39 79.47 586.22 79.83 585.65 80.20 585.68 80.47 585.50 80.73 585.14 81.00 585.13 81.27 585.80 81.53 586.76 81.80 587.27 82.07 586.26 82.33 583.72 82.60 580.68 82.87 577.71 83.13 575.23 83.40 574.02 83.75 574.93 84.10 577.64 84.45 580.35 84.80 582.07 85.15 583.46 85.50 584.55 85.83 583.94 86.17 581.49 86.50 578.25 86.83 574.75 87.17 570.91 87.50 567.59 87.82 565.63 88.13 564.23 88.45 562.70 88.77 560.91 89.08 559.56 89.40 559.17 89.75 559.54 90.10 560.29 90.45 561.69 90.80 563.64 91.15 565.13 91.50 565.82 91.92 567.27 92.33 570.05 92.75 572.57 93.17 575.03 93.58 577.74 94.00 579.73 94.42 582.12 94.83 585.76 95.25 588.54 95.67 590.05 96.08 591.93 96.50 593.72 96.80 594.61 97.10 595.70 97.40 596.97 97.70 597.76 98.00 597.65 98.30 597.20 98.83 597.72 99.37 597.76 99.90 596.74 100.43 596.11 100.97 595.23 101.50 595.66 102.03 593.55 102.57 589.00 103.10 585.11 103.63 580.80 104.17 577.88 104.70 576.07 105.05 576.11 105.40 577.67 105.75 579.53 106.10 580.37 106.45 580.55 106.80 580.71 107.08 579.58 107.37 576.60 107.65 572.91 107.93 569.66 108.22 567.31 108.50 566.17 108.92 566.53 109.33 569.34 109.75 573.99 110.17 578.09 110.58 581.51 111.00 583.94 111.55 585.46 112.10 588.48 112.65 590.88 113.20 591.40 113.75 592.63 114.30 592.88 114.82 592.10 115.33 588.68 115.85 584.28 116.37 581.67 116.88 578.68 117.40 577.02 117.77 577.25 118.13 577.76 118.50 579.06 118.87 581.05 119.23 582.13 119.60 581.74 120.13 580.86 120.67 579.28 121.20 576.24 121.73 573.27 122.27 570.05 122.80 569.88 123.17 571.87 123.53 574.67 123.90 578.41 124.27 583.04 124.63 587.13 125.00 589.84 125.33 591.96 125.67 594.07 126.00 595.23 126.33 595.75 126.67 596.67 127.00 597.79 127.53 598.04 128.07 597.43 128.60 596.45 129.13 595.17 129.67 595.35 130.20 594.00 130.73 592.29 131.27 591.18 131.80 589.20 132.33 587.33 132.87 584.18 133.40 582.41 133.93 581.86 134.47 579.70 135.00 578.09 135.53 576.43 136.07 575.90 136.60 575.76 137.13 575.14 137.67 577.31 138.20 579.94 138.73 582.15 139.27 583.53 139.80 583.37 140.15 583.70 140.50 583.75 140.85 582.67 141.20 581.34 141.55 580.85 141.90 580.93 142.43 581.82 142.97 584.35 143.50 585.89 144.03 587.66 144.57 590.48 145.10 591.05 145.45 590.74 145.80 590.07 146.15 588.79 146.50 587.77 146.85 587.70 147.20 587.78 147.57 587.69 147.93 588.61 148.30 591.01 148.67 593.59 149.03 595.37 149.40 596.36 149.60 596.51 149.80 596.32 150.00 595.73 150.20 594.88 150.40 594.04 150.60 593.45 150.93 584.51 151.27 562.47 151.60 533.40 151.93 504.89 152.27 483.03 152.60 474.30 152.90 481.57 153.20 499.90 153.50 524.10 153.80 549.26 154.10 569.79 154.40 579.62 154.58 581.73 154.77 583.92 154.95 586.00 155.13 587.71 155.32 588.79 155.50 589.11 155.78 588.95 156.07 588.91 156.35 588.90 156.63 588.55 156.92 587.92 157.20 587.57 157.45 586.72 157.70 584.45 157.95 581.00 158.20 577.00 158.45 573.62 158.70 572.17 159.07 573.19 159.43 575.57 159.80 578.62 160.17 582.20 160.53 584.91 160.90 585.43 161.35 585.39 161.80 586.48 162.25 586.62 162.70 586.25 163.15 586.43 163.60 586.46 164.07 587.91 164.53 590.51 165.00 591.75 165.47 593.23 165.93 595.40 166.40 596.33 167.07 597.35 167.73 597.13 168.40 598.80 169.07 598.94 169.73 598.64 170.40 598.52 170.78 598.57 171.17 597.92 171.55 595.61 171.93 592.83 172.32 591.05 172.70 589.49 173.10 586.66 173.50 583.19 173.90 579.62 174.30 575.98 174.70 573.97 175.10 574.20 175.62 574.77 176.13 575.87 176.65 578.63 177.17 581.13 177.68 583.84 178.20 584.75 178.80 585.41 179.40 587.41 180.00 587.41 180.60 587.71 181.20 587.80 181.80 589.51 182.25 589.72 182.70 589.68 183.15 590.96 183.60 591.82 184.05 592.09 184.50 592.23 184.97 590.35 185.43 587.77 185.90 585.65 186.37 582.14 186.83 579.09 187.30 578.23 187.50 578.37 187.70 578.78 187.90 579.46 188.10 580.33 188.30 581.13 188.50 581.48 188.68 580.86 188.87 579.26 189.05 577.22 189.23 575.35 189.42 574.16 189.60 574.00 190.03 575.37 190.47 576.39 190.90 577.73 191.33 579.17 191.77 580.10 192.20 581.79 192.75 583.97 193.30 584.54 193.85 586.45 194.40 588.00 194.95 589.18 195.50 588.98 196.03 588.03 196.57 588.99 197.10 588.71 197.63 588.06 198.17 587.53 198.70 586.91 199.13 586.26 199.57 583.23 200.00 579.09 200.43 576.47 200.87 574.78 201.30 573.88 201.68 575.61 202.07 579.25 202.45 583.53 202.83 588.67 203.22 593.36 203.60 594.83 204.12 592.46 204.63 588.95 205.15 584.06 205.67 579.65 206.18 575.46 206.70 572.77 207.25 574.56 207.80 577.10 208.35 580.29 208.90 583.61 209.45 586.76 210.00 589.79 210.45 590.07 210.90 590.60 211.35 592.19 211.80 593.24 212.25 594.18 212.70 594.50 213.17 593.45 213.63 593.39 214.10 593.76 214.57 592.70 215.03 591.99 215.50 591.75 216.08 591.65 216.67 592.22 217.25 590.59 217.83 590.43 218.42 590.44 219.00 590.09 219.62 589.39 220.23 589.12 220.85 589.55 221.47 587.77 222.08 587.38 222.70 586.88 223.47 586.02 224.23 582.77 225.00 581.00 225.77 577.86 226.53 575.66 227.30 576.38 227.90 575.87 228.50 576.79 229.10 578.64 229.70 580.64 230.30 582.15 230.90 583.65 231.50 586.54 232.10 587.54 232.70 589.31 233.30 590.87 233.90 593.10 234.50 592.84 235.12 592.60 235.73 592.43 236.35 590.96 236.97 589.21 237.58 587.95 238.20 587.83 238.80 585.23 239.40 583.39 240.00 581.12 240.60 579.61 241.20 577.24 241.80 577.23 242.42 579.11 243.03 581.38 243.65 584.82 244.27 588.88 244.88 592.85 245.50 593.46 246.08 594.76 246.67 595.20 247.25 595.53 247.83 594.82 248.42 595.50 249.00 596.64 249.62 596.16 250.23 596.59 250.85 596.81 251.47 597.49 252.08 596.39 252.70 597.48 253.47 596.60 254.23 593.71 255.00 590.17 255.77 587.37 256.53 584.33 257.30 583.81 257.92 584.71 258.53 584.96 259.15 586.92 259.77 589.51 260.38 590.42 261.00 590.96 261.75 591.28 262.50 590.86 263.25 590.59 264.00 591.27 264.75 591.42 265.50 590.38 265.95 591.20 266.40 591.26 266.85 590.32 267.30 590.26 267.75 590.27 268.20 590.19 268.58 589.32 268.97 585.94 269.35 580.99 269.73 577.03 270.12 574.85 270.50 573.84 271.02 575.04 271.53 578.70 272.05 582.96 272.57 588.48 273.08 591.99 273.60 592.27 274.07 591.94 274.53 590.48 275.00 588.44 275.47 586.38 275.93 583.69 276.40 582.94 276.83 584.51 277.27 585.97 277.70 587.76 278.13 590.23 278.57 591.98 279.00 593.17 279.62 593.54 280.23 591.51 280.85 591.34 281.47 590.41 282.08 589.77 282.70 588.53 283.32 589.19 283.93 588.61 284.55 587.54 285.17 587.52 285.78 587.73 286.40 587.32 287.08 585.47 287.77 584.46 288.45 581.49 289.13 579.09 289.82 578.14 290.50 577.84 290.93 577.75 291.37 580.11 291.80 583.18 292.23 585.90 292.67 588.35 293.10 588.85 293.35 588.12 293.60 587.23 293.85 586.38 294.10 585.24 294.35 583.32 294.60 580.55 294.87 573.52 295.13 561.34 295.40 546.97 295.67 533.00 295.93 522.40 296.20 518.20 296.47 520.50 296.73 526.49 297.00 534.80 297.27 544.06 297.53 552.71 297.80 559.73 298.02 564.95 298.23 570.52 298.45 575.59 298.67 579.72 298.88 582.63 299.10 584.03 299.70 584.85 300.30 585.24 300.90 587.08 301.50 586.62 302.10 587.05 302.70 587.89 303.10 589.31 303.50 591.57 303.90 593.21 304.30 594.97 304.70 597.49 305.10 598.75 305.70 597.36 306.30 595.25 306.90 592.45 307.50 591.14 308.10 588.48 308.70 587.88 309.07 588.82 309.43 589.85 309.80 591.26 310.17 592.67 310.53 593.13 310.90 593.10 311.35 593.60 311.80 593.10 312.25 590.94 312.70 589.27 313.15 587.89 313.60 586.88 314.22 586.71 314.83 584.77 315.45 584.89 316.07 584.89 316.68 584.39 317.30 583.55 317.75 583.70 318.20 585.00 318.65 585.10 319.10 584.95 319.55 585.84 320.00 586.22 320.45 585.85 320.90 584.68 321.35 581.98 321.80 580.03 322.25 579.80 322.70 579.33 323.17 579.41 323.63 580.62 324.10 581.78 324.57 583.69 325.03 585.11 325.50 584.42 326.03 583.57 326.57 582.09 327.10 579.18 327.63 576.26 328.17 573.03 328.70 572.75 329.22 573.20 329.73 572.61 330.25 573.34 330.77 574.07 331.28 575.31 331.80 575.94 332.10 575.72 332.40 576.22 332.70 577.75 333.00 579.61 333.30 581.01 333.60 582.04 334.22 585.09 334.83 588.26 335.45 592.95 336.07 595.70 336.68 597.44 337.30 598.98 337.90 598.63 338.50 596.68 339.10 593.45 339.70 592.11 340.30 589.54 340.90 588.73 341.45 588.74 342.00 589.67 342.55 589.85 343.10 588.82 343.65 589.70 344.20 590.01 344.72 590.67 345.23 591.40 345.75 592.34 346.27 594.60 346.78 594.90 347.30 594.45 347.75 594.67 348.20 594.63 348.65 595.08 349.10 595.10 349.55 593.91 350.00 593.75 350.30 593.90 350.60 593.11 350.90 591.49 351.20 589.76 351.50 588.24 351.80 586.68 352.25 583.81 352.70 581.32 353.15 578.25 353.60 574.00 354.05 571.41 354.50 570.93 354.97 571.65 355.43 574.02 355.90 576.57 356.37 579.04 356.83 582.68 357.30 584.77 357.75 584.92 358.20 585.66 358.65 586.35 359.10 587.11 359.55 588.39 360.00 588.23 360.60 587.44 361.20 588.09 361.80 587.27 362.40 586.62 363.00 585.57 363.60 586.61 364.07 586.37 364.53 585.43 365.00 585.52 365.47 585.35 365.93 585.32 366.40 585.28 366.85 583.72 367.30 582.48 367.75 582.01 368.20 580.35 368.65 578.70 369.10 578.07 369.50 577.98 369.90 579.14 370.30 581.24 370.70 582.46 371.10 583.18 371.50 584.82 372.00 587.07 372.50 588.87 373.00 590.82 373.50 591.61 374.00 593.05 374.50 594.66 375.12 592.78 375.73 589.81 376.35 585.60 376.97 582.05 377.58 577.43 378.20 575.77 378.75 575.67 379.30 574.62 379.85 573.70 380.40 572.51 380.95 573.18 381.50 572.76 381.85 572.86 382.20 574.87 382.55 577.76 382.90 580.55 383.25 583.28 383.60 585.56 384.07 587.14 384.53 588.92 385.00 592.27 385.47 594.53 385.93 595.46 386.40 596.08 386.93 594.89 387.47 593.26 388.00 590.31 388.53 586.25 389.07 584.79 389.60 584.28 389.97 585.02 390.33 586.80 390.70 588.46 391.07 590.04 391.43 592.15 391.80 593.51 392.47 592.18 393.13 591.32 393.80 590.11 394.47 589.28 395.13 586.65 395.80 587.11 396.28 587.75 396.77 589.11 397.25 591.03 397.73 592.59 398.22 594.89 398.70 595.54 399.00 593.88 399.30 591.27 399.60 588.72 399.90 586.34 400.20 584.34 400.50 583.62 400.87 584.65 401.23 586.15 401.60 587.42 401.97 589.28 402.33 591.61 402.70 592.50 403.32 590.95 403.93 589.37 404.55 587.26 405.17 585.78 405.78 582.30 406.40 581.35 406.70 581.32 407.00 580.98 407.30 580.75 407.60 580.70 407.90 580.40 408.20 579.67 408.75 578.70 409.30 577.41 409.85 573.71 410.40 571.22 410.95 569.54 411.50 569.46 412.17 569.70 412.83 570.76 413.50 573.43 414.17 575.11 414.83 577.27 415.50 580.26 416.10 582.95 416.70 584.55 417.30 587.92 417.90 590.40 418.50 592.50 419.10 592.36 420.00 592.92 420.90 589.39 421.80 586.15 422.70 584.01 423.60 580.99 424.50 580.37 425.13 581.21 425.77 583.11 426.40 587.84 427.03 590.97 427.67 593.17 428.30 594.32 428.92 594.31 429.53 592.99 430.15 591.74 430.77 591.89 431.38 590.41 432.00 589.81 432.47 589.88 432.93 591.86 433.40 593.79 433.87 594.45 434.33 595.93 434.80 596.99 435.27 595.83 435.73 593.06 436.20 588.06 436.67 582.23 437.13 577.14 437.60 570.51 437.93 562.14 438.27 550.12 438.60 536.49 438.93 523.65 439.27 514.13 439.60 510.40 439.93 514.09 440.27 523.53 440.60 536.28 440.93 549.74 441.27 562.19 441.60 570.54 442.07 577.49 442.53 584.14 443.00 589.34 443.47 594.16 443.93 598.13 444.40 598.61 444.88 597.98 445.37 597.93 445.85 597.02 446.33 596.14 446.82 594.31 447.30 592.08 447.83 591.19 448.37 588.76 448.90 585.53 449.43 582.90 449.97 580.79 450.50 580.83 451.05 580.49 451.60 581.53 452.15 584.34 452.70 586.28 453.25 587.84 453.80 587.45 454.28 585.74 454.77 581.13 455.25 573.45 455.73 566.58 456.22 561.59 456.70 559.63 457.13 560.85 457.57 562.57 458.00 564.57 458.43 567.91 458.87 570.91 459.30 572.02 459.67 572.51 460.03 572.80 460.40 572.66 460.77 573.06 461.13 574.14 461.50 574.60 461.78 575.16 462.07 577.09 462.35 580.22 462.63 583.59 462.92 586.07 463.20 587.04 463.72 585.18 464.23 578.85 464.75 570.49 465.27 563.69 465.78 557.53 466.30 554.90 466.63 555.49 466.97 556.84 467.30 558.87 467.63 561.65 467.97 564.45 468.30 566.29 468.62 567.65 468.93 569.84 469.25 572.78 469.57 575.51 469.88 577.77 470.20 580.01 470.75 584.07 471.30 587.93 471.85 593.30 472.40 596.65 472.95 598.29 473.50 599.52 474.03 599.64 474.57 600.28 475.10 599.29 475.63 598.88 476.17 599.41 476.70 598.43 477.25 597.17 477.80 594.57 478.35 592.46 478.90 589.61 479.45 585.23 480.00 582.93 480.47 580.85 480.93 578.65 481.40 576.50 481.87 573.85 482.33 573.02 482.80 573.46 483.17 574.36 483.53 577.16 483.90 581.52 484.27 585.85 484.63 589.19 485.00 591.16 485.43 590.79 485.87 587.90 486.30 585.10 486.73 583.25 487.17 581.15 487.60 580.03 488.05 580.92 488.50 582.90 488.95 586.75 489.40 591.18 489.85 593.25 490.30 593.71 490.95 593.12 491.60 590.99 492.25 587.95 492.90 584.21 493.55 582.90 494.20 580.60 494.63 579.84 495.07 578.82 495.50 578.36 495.93 578.85 496.37 578.35 496.80 577.47 497.27 578.56 497.73 580.33 498.20 581.99 498.67 583.78 499.13 584.30 499.60 584.86 500.15 586.15 500.70 585.57 501.25 585.47 501.80 585.38 502.35 585.69 502.90 585.74 503.63 584.84 504.37 586.40 505.10 586.52 505.83 586.24 506.57 587.61 507.30 587.77 507.58 587.87 507.87 588.73 508.15 589.80 508.43 590.56 508.72 591.04 509.00 591.42 509.43 590.57 509.87 587.34 510.30 584.27 510.73 582.44 511.17 580.34 511.60 579.07 512.15 580.38 512.70 583.13 513.25 587.86 513.80 591.19 514.35 593.48 514.90 595.66 515.45 595.30 516.00 594.28 516.55 591.83 517.10 590.51 517.65 589.96 518.20 588.55 518.75 588.98 519.30 589.52 519.85 590.66 520.40 590.64 520.95 590.03 521.50 591.16 522.12 590.39 522.73 588.89 523.35 586.36 523.97 585.27 524.58 582.99 525.20 581.78 525.67 582.97 526.13 584.72 526.60 587.28 527.07 588.89 527.53 589.78 528.00 591.24 528.37 591.34 528.73 590.35 529.10 589.48 529.47 588.97 529.83 588.28 530.20 587.93" fill="none" stroke="#ff6a6a" stroke-width="0.72" stroke-linejoin="round"/>
<text transform="translate(71.00 164.50) scale(1 0.55)" font-size="9.4" text-anchor="middle" fill="#1e1e1e" stroke="#1e1e1e" stroke-width="0" font-weight="bold">401.3</text>
<text transform="translate(80.80 176.50) scale(1 0.55)" font-size="9.4" text-anchor="middle" fill="#1e1e1e" stroke="#1e1e1e" stroke-width="0" font-weight="bold">405.3</text>
<text transform="translate(103.10 148.90) scale(1 0.55)" font-size="9.4" text-anchor="middle" fill="#1e1e1e" stroke="#1e1e1e" stroke-width="0" font-weight="bold">415.2</text>
<text transform="translate(122.20 173.50) scale(1 0.55)" font-size="9.4" text-anchor="middle" fill="#1e1e1e" stroke="#1e1e1e" stroke-width="0" font-weight="bold">423.3</text>
<text transform="translate(158.60 179.90) scale(1 0.55)" font-size="9.4" text-anchor="middle" fill="#1e1e1e" stroke="#1e1e1e" stroke-width="0" font-weight="bold">439.3</text>
<text transform="translate(168.80 165.40) scale(1 0.55)" font-size="9.4" text-anchor="middle" fill="#1e1e1e" stroke="#1e1e1e" stroke-width="0" font-weight="bold">443.3</text>
<text transform="translate(192.20 180.80) scale(1 0.55)" font-size="9.4" text-anchor="middle" fill="#1e1e1e" stroke="#1e1e1e" stroke-width="0" font-weight="bold">453.4</text>
<text transform="translate(206.10 167.30) scale(1 0.55)" font-size="9.4" text-anchor="middle" fill="#1e1e1e" stroke="#1e1e1e" stroke-width="0" font-weight="bold">459.3</text>
<text transform="translate(238.10 175.70) scale(1 0.55)" font-size="9.4" text-anchor="middle" fill="#1e1e1e" stroke="#1e1e1e" stroke-width="0" font-weight="bold">473.4</text>
<text transform="translate(270.20 168.50) scale(1 0.55)" font-size="9.4" text-anchor="middle" fill="#1e1e1e" stroke="#1e1e1e" stroke-width="0" font-weight="bold">487.3</text>
<text transform="translate(280.40 184.20) scale(1 0.55)" font-size="9.4" text-anchor="middle" fill="#1e1e1e" stroke="#1e1e1e" stroke-width="0" font-weight="bold">491.3</text>
<text transform="translate(288.10 133.30) scale(1 0.55)" font-size="9.4" text-anchor="middle" fill="#1e1e1e" stroke="#1e1e1e" stroke-width="0" font-weight="bold">494.8</text>
<text transform="translate(316.80 185.00) scale(1 0.55)" font-size="9.4" text-anchor="middle" fill="#1e1e1e" stroke="#1e1e1e" stroke-width="0" font-weight="bold">507.4</text>
<text transform="translate(320.40 174.60) scale(1 0.55)" font-size="9.4" text-anchor="middle" fill="#1e1e1e" stroke="#1e1e1e" stroke-width="0" font-weight="bold">509.2</text>
<text transform="translate(353.10 47.90) scale(1 0.55)" font-size="9.4" text-anchor="middle" fill="#1e1e1e" stroke="#1e1e1e" stroke-width="0" font-weight="bold">522.9</text>
<text transform="translate(386.40 173.00) scale(1 0.55)" font-size="9.4" text-anchor="middle" fill="#1e1e1e" stroke="#1e1e1e" stroke-width="0" font-weight="bold">537.2</text>
<text transform="translate(395.10 185.10) scale(1 0.55)" font-size="9.4" text-anchor="middle" fill="#1e1e1e" stroke="#1e1e1e" stroke-width="0" font-weight="bold">541.4</text>
<text transform="translate(418.10 63.50) scale(1 0.55)" font-size="9.4" text-anchor="middle" fill="#1e1e1e" stroke="#1e1e1e" stroke-width="0" font-weight="bold">550.9</text>
<text transform="translate(437.30 180.80) scale(1 0.55)" font-size="9.4" text-anchor="middle" fill="#1e1e1e" stroke="#1e1e1e" stroke-width="0" font-weight="bold">559.4</text>
<text transform="translate(489.10 182.90) scale(1 0.55)" font-size="9.4" text-anchor="middle" fill="#1e1e1e" stroke="#1e1e1e" stroke-width="0" font-weight="bold">581.5</text>
<text transform="translate(84.20 371.80) scale(1 0.55)" font-size="9.4" text-anchor="middle" fill="#1e1e1e" stroke="#1e1e1e" stroke-width="0" font-weight="bold">607.3</text>
<text transform="translate(94.40 360.00) scale(1 0.55)" font-size="9.4" text-anchor="middle" fill="#1e1e1e" stroke="#1e1e1e" stroke-width="0" font-weight="bold">611.5</text>
<text transform="translate(122.50 378.50) scale(1 0.55)" font-size="9.4" text-anchor="middle" fill="#1e1e1e" stroke="#1e1e1e" stroke-width="0" font-weight="bold">623.4</text>
<text transform="translate(135.10 363.70) scale(1 0.55)" font-size="9.4" text-anchor="middle" fill="#1e1e1e" stroke="#1e1e1e" stroke-width="0" font-weight="bold">629.4</text>
<text transform="translate(177.80 373.40) scale(1 0.55)" font-size="9.4" text-anchor="middle" fill="#1e1e1e" stroke="#1e1e1e" stroke-width="0" font-weight="bold">647.5</text>
<text transform="translate(185.60 313.30) scale(1 0.55)" font-size="9.4" text-anchor="middle" fill="#1e1e1e" stroke="#1e1e1e" stroke-width="0" font-weight="bold">650.9</text>
<text transform="translate(197.10 355.60) scale(1 0.55)" font-size="9.4" text-anchor="middle" fill="#1e1e1e" stroke="#1e1e1e" stroke-width="0" font-weight="bold">655.8</text>
<text transform="translate(229.40 377.90) scale(1 0.55)" font-size="9.4" text-anchor="middle" fill="#1e1e1e" stroke="#1e1e1e" stroke-width="0" font-weight="bold">669.7</text>
<text transform="translate(266.40 384.90) scale(1 0.55)" font-size="9.4" text-anchor="middle" fill="#1e1e1e" stroke="#1e1e1e" stroke-width="0" font-weight="bold">685.6</text>
<text transform="translate(275.10 373.60) scale(1 0.55)" font-size="9.4" text-anchor="middle" fill="#1e1e1e" stroke="#1e1e1e" stroke-width="0" font-weight="bold">689.5</text>
<text transform="translate(307.90 383.30) scale(1 0.55)" font-size="9.4" text-anchor="middle" fill="#1e1e1e" stroke="#1e1e1e" stroke-width="0" font-weight="bold">703.4</text>
<text transform="translate(311.90 373.60) scale(1 0.55)" font-size="9.4" text-anchor="middle" fill="#1e1e1e" stroke="#1e1e1e" stroke-width="0" font-weight="bold">705.3</text>
<text transform="translate(330.60 317.80) scale(1 0.55)" font-size="9.4" text-anchor="middle" fill="#1e1e1e" stroke="#1e1e1e" stroke-width="0" font-weight="bold">712.9</text>
<text transform="translate(373.30 381.80) scale(1 0.55)" font-size="9.4" text-anchor="middle" fill="#1e1e1e" stroke="#1e1e1e" stroke-width="0" font-weight="bold">731.5</text>
<text transform="translate(377.00 339.60) scale(1 0.55)" font-size="9.4" text-anchor="middle" fill="#1e1e1e" stroke="#1e1e1e" stroke-width="0" font-weight="bold">733.3</text>
<text transform="translate(413.60 379.60) scale(1 0.55)" font-size="9.4" text-anchor="middle" fill="#1e1e1e" stroke="#1e1e1e" stroke-width="0" font-weight="bold">749.4</text>
<text transform="translate(442.00 330.20) scale(1 0.55)" font-size="9.4" text-anchor="middle" fill="#1e1e1e" stroke="#1e1e1e" stroke-width="0" font-weight="bold">761.4</text>
<text transform="translate(473.20 320.20) scale(1 0.55)" font-size="9.4" text-anchor="middle" fill="#1e1e1e" stroke="#1e1e1e" stroke-width="0" font-weight="bold">774.8</text>
<text transform="translate(506.80 369.60) scale(1 0.55)" font-size="9.4" text-anchor="middle" fill="#1e1e1e" stroke="#1e1e1e" stroke-width="0" font-weight="bold">789.4</text>
<text transform="translate(512.20 385.00) scale(1 0.55)" font-size="9.4" text-anchor="middle" fill="#1e1e1e" stroke="#1e1e1e" stroke-width="0" font-weight="bold">791.5</text>
<text transform="translate(90.00 558.00) scale(1 0.55)" font-size="9.4" text-anchor="middle" fill="#1e1e1e" stroke="#1e1e1e" stroke-width="0" font-weight="bold">809.4</text>
<text transform="translate(153.10 472.80) scale(1 0.55)" font-size="9.4" text-anchor="middle" fill="#1e1e1e" stroke="#1e1e1e" stroke-width="0" font-weight="bold">836.6</text>
<text transform="translate(297.00 517.80) scale(1 0.55)" font-size="9.4" text-anchor="middle" fill="#1e1e1e" stroke="#1e1e1e" stroke-width="0" font-weight="bold">898.6</text>
<text transform="translate(440.20 509.30) scale(1 0.55)" font-size="9.4" text-anchor="middle" fill="#1e1e1e" stroke="#1e1e1e" stroke-width="0" font-weight="bold">960.5</text>
<text transform="translate(466.90 554.10) scale(1 0.55)" font-size="9.4" text-anchor="middle" fill="#1e1e1e" stroke="#1e1e1e" stroke-width="0" font-weight="bold">972.1</text>
<clipPath id="c1"><rect x="0" y="0" width="531.5" height="635"/></clipPath>
<g clip-path="url(#c1)">
<text transform="translate(531.50 176.30) scale(1 0.55)" font-size="9.4" text-anchor="middle" fill="#1e1e1e" stroke="#1e1e1e" stroke-width="0.25">597.3</text>
</g>
</svg>
</body></html>
